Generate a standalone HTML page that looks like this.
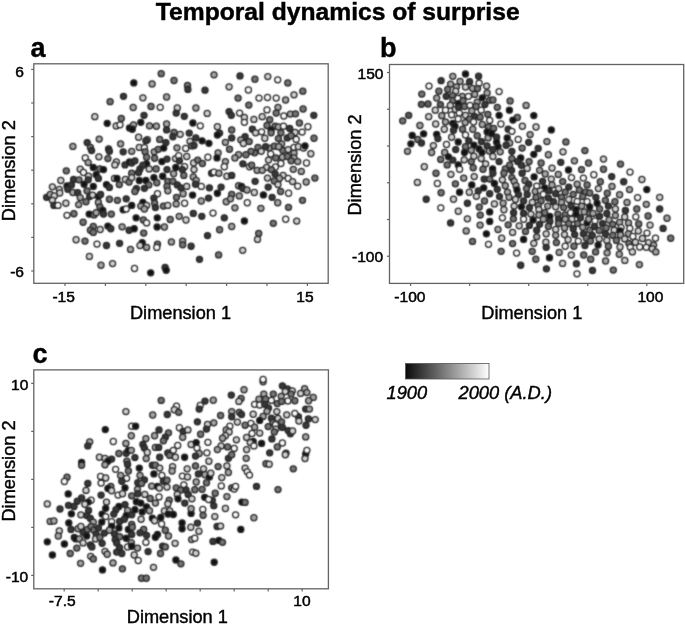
<!DOCTYPE html>
<html><head><meta charset="utf-8"><title>Temporal dynamics of surprise</title>
<style>
html,body{margin:0;padding:0;background:#fff}
svg{display:block}
text{font-family:"Liberation Sans",Arial,sans-serif;fill:#000;stroke:#000;stroke-width:0.4px}
.t{font-weight:bold;font-size:24.65px;stroke-width:0.45px}
.p{font-weight:bold;font-size:27px}
.l{font-size:18.2px}
.k{font-size:15.6px;stroke-width:0.5px}
.i{font-size:18.3px;font-style:italic}
.fr rect{stroke:#636363;stroke-width:1.3}
.tk line{stroke:#636363;stroke-width:1.2}
.d circle{stroke:#262626;stroke-width:1.25}
</style></head><body>
<svg width="685" height="640" viewBox="0 0 685 640">
<defs><filter id="bl" x="-2%" y="-2%" width="104%" height="104%" color-interpolation-filters="sRGB"><feConvolveMatrix order="3" kernelMatrix="1 2 1 2 8 2 1 2 1" divisor="20" edgeMode="duplicate" preserveAlpha="false"/></filter><linearGradient id="g" x1="0" x2="1" y1="0" y2="0"><stop offset="0" stop-color="#0a0a0a"/><stop offset="1" stop-color="#ffffff"/></linearGradient></defs>
<rect width="685" height="640" fill="#fff"/>
<text class="t" x="337.7" y="19.8" text-anchor="middle">Temporal dynamics of surprise</text>
<text class="p" x="30.5" y="57">a</text>
<text class="p" x="380" y="57">b</text>
<text class="p" x="32.5" y="362.5">c</text>
<g class="fr"><rect x="33.8" y="63.8" width="294.4" height="219.5" fill="#fff"/><rect x="389.5" y="64.5" width="294.20000000000005" height="218.89999999999998" fill="#fff"/><rect x="33.8" y="369.9" width="294.59999999999997" height="218.89999999999998" fill="#fff"/></g>
<g class="tk"><line x1="65.0" y1="283.3" x2="65.0" y2="285.90000000000003"/><line x1="105.4" y1="283.3" x2="105.4" y2="285.90000000000003"/><line x1="145.8" y1="283.3" x2="145.8" y2="285.90000000000003"/><line x1="186.2" y1="283.3" x2="186.2" y2="285.90000000000003"/><line x1="226.6" y1="283.3" x2="226.6" y2="285.90000000000003"/><line x1="267.0" y1="283.3" x2="267.0" y2="285.90000000000003"/><line x1="307.4" y1="283.3" x2="307.4" y2="285.90000000000003"/><line x1="31.199999999999996" y1="69.4" x2="33.8" y2="69.4"/><line x1="31.199999999999996" y1="103.0" x2="33.8" y2="103.0"/><line x1="31.199999999999996" y1="136.60000000000002" x2="33.8" y2="136.60000000000002"/><line x1="31.199999999999996" y1="170.20000000000002" x2="33.8" y2="170.20000000000002"/><line x1="31.199999999999996" y1="203.8" x2="33.8" y2="203.8"/><line x1="31.199999999999996" y1="237.4" x2="33.8" y2="237.4"/><line x1="31.199999999999996" y1="271.0" x2="33.8" y2="271.0"/><line x1="410.6" y1="283.4" x2="410.6" y2="286.0"/><line x1="469.65000000000003" y1="283.4" x2="469.65000000000003" y2="286.0"/><line x1="528.7" y1="283.4" x2="528.7" y2="286.0"/><line x1="587.75" y1="283.4" x2="587.75" y2="286.0"/><line x1="646.8" y1="283.4" x2="646.8" y2="286.0"/><line x1="386.9" y1="72.5" x2="389.5" y2="72.5"/><line x1="386.9" y1="109.25" x2="389.5" y2="109.25"/><line x1="386.9" y1="146.0" x2="389.5" y2="146.0"/><line x1="386.9" y1="182.75" x2="389.5" y2="182.75"/><line x1="386.9" y1="219.5" x2="389.5" y2="219.5"/><line x1="386.9" y1="256.25" x2="389.5" y2="256.25"/><line x1="64.2" y1="588.8" x2="64.2" y2="591.4"/><line x1="98.2" y1="588.8" x2="98.2" y2="591.4"/><line x1="132.2" y1="588.8" x2="132.2" y2="591.4"/><line x1="166.2" y1="588.8" x2="166.2" y2="591.4"/><line x1="200.2" y1="588.8" x2="200.2" y2="591.4"/><line x1="234.2" y1="588.8" x2="234.2" y2="591.4"/><line x1="268.2" y1="588.8" x2="268.2" y2="591.4"/><line x1="302.2" y1="588.8" x2="302.2" y2="591.4"/><line x1="31.199999999999996" y1="383.4" x2="33.8" y2="383.4"/><line x1="31.199999999999996" y1="431.4" x2="33.8" y2="431.4"/><line x1="31.199999999999996" y1="479.4" x2="33.8" y2="479.4"/><line x1="31.199999999999996" y1="527.4" x2="33.8" y2="527.4"/><line x1="31.199999999999996" y1="575.4" x2="33.8" y2="575.4"/></g>
<text class="k" transform="translate(24.0,76.9) scale(1,0.94)" text-anchor="end">6</text>
<text class="k" transform="translate(24.0,277.3) scale(1,0.94)" text-anchor="end">-6</text>
<text class="k" transform="translate(63.7,301.7) scale(1,0.94)" text-anchor="middle">-15</text>
<text class="k" transform="translate(305.0,301.7) scale(1,0.94)" text-anchor="middle">15</text>
<text class="l" x="180.5" y="319.4" text-anchor="middle">Dimension 1</text>
<text class="l" transform="translate(14.7,170.7) rotate(-90)" text-anchor="middle">Dimension 2</text>
<text class="k" transform="translate(383.5,78.6) scale(1,0.94)" text-anchor="end">150</text>
<text class="k" transform="translate(383.2,262.1) scale(1,0.94)" text-anchor="end">-100</text>
<text class="k" transform="translate(409.9,301.7) scale(1,0.94)" text-anchor="middle">-100</text>
<text class="k" transform="translate(650.4,301.7) scale(1,0.94)" text-anchor="middle">100</text>
<text class="l" x="531.8" y="319.4" text-anchor="middle">Dimension 1</text>
<text class="l" transform="translate(361.2,165) rotate(-90)" text-anchor="middle">Dimension 2</text>
<text class="k" transform="translate(28.3,390.4) scale(1,0.94)" text-anchor="end">10</text>
<text class="k" transform="translate(28.3,581.8) scale(1,0.94)" text-anchor="end">-10</text>
<text class="k" transform="translate(62.2,605.8) scale(1,0.94)" text-anchor="middle">-7.5</text>
<text class="k" transform="translate(302.0,605.8) scale(1,0.94)" text-anchor="middle">10</text>
<text class="l" x="177.3" y="623" text-anchor="middle">Dimension 1</text>
<text class="l" transform="translate(14.8,471) rotate(-90)" text-anchor="middle">Dimension 2</text>
<rect x="405.5" y="363.5" width="83.5" height="15.5" fill="url(#g)" stroke="#555" stroke-width="0.8"/>
<text class="i" x="386.5" y="398.6">1900</text>
<text class="i" x="458.5" y="398.6">2000 (A.D.)</text>
<g class="d" filter="url(#bl)">
<!--A-->
<circle cx="123.5" cy="96.3" r="3.05" fill="#383838"/>
<circle cx="110.1" cy="101.7" r="3.05" fill="#747474"/>
<circle cx="94.8" cy="116.7" r="3.05" fill="#d0d0d0"/>
<circle cx="121.3" cy="118.5" r="3.05" fill="#747474"/>
<circle cx="107.2" cy="123.3" r="3.05" fill="#121212" stroke="#1e1e1e"/>
<circle cx="116.2" cy="125.9" r="3.05" fill="#d0d0d0"/>
<circle cx="120" cy="124.8" r="3.05" fill="#f8f8f8"/>
<circle cx="129.5" cy="128" r="3.05" fill="#121212" stroke="#1e1e1e"/>
<circle cx="99.2" cy="139.1" r="3.05" fill="#a4a4a4"/>
<circle cx="87.2" cy="142.6" r="3.05" fill="#383838"/>
<circle cx="72.9" cy="146.4" r="3.05" fill="#a4a4a4"/>
<circle cx="90.4" cy="147.4" r="3.05" fill="#747474"/>
<circle cx="91.6" cy="150.6" r="3.05" fill="#383838"/>
<circle cx="120.6" cy="143.8" r="3.05" fill="#a4a4a4"/>
<circle cx="108.6" cy="148.9" r="3.05" fill="#383838"/>
<circle cx="109.4" cy="151.3" r="3.05" fill="#383838"/>
<circle cx="123.2" cy="151.8" r="3.05" fill="#383838"/>
<circle cx="131.7" cy="151.3" r="3.05" fill="#a4a4a4"/>
<circle cx="161.2" cy="73.7" r="3.05" fill="#747474"/>
<circle cx="214" cy="74.8" r="3.05" fill="#a4a4a4"/>
<circle cx="133.8" cy="82.9" r="3.05" fill="#121212" stroke="#1e1e1e"/>
<circle cx="152.1" cy="83.9" r="3.05" fill="#a4a4a4"/>
<circle cx="174" cy="80.5" r="3.05" fill="#747474"/>
<circle cx="187.5" cy="85.4" r="3.05" fill="#747474"/>
<circle cx="187.9" cy="89.4" r="3.05" fill="#383838"/>
<circle cx="205" cy="90.2" r="3.05" fill="#383838"/>
<circle cx="229.1" cy="86.8" r="3.05" fill="#d0d0d0"/>
<circle cx="142.9" cy="97.8" r="3.05" fill="#d0d0d0"/>
<circle cx="166.6" cy="97" r="3.05" fill="#a4a4a4"/>
<circle cx="133.2" cy="107.5" r="3.05" fill="#a4a4a4"/>
<circle cx="151" cy="106.5" r="3.05" fill="#747474"/>
<circle cx="160.2" cy="107.3" r="3.05" fill="#f8f8f8"/>
<circle cx="177.3" cy="108" r="3.05" fill="#d0d0d0"/>
<circle cx="176.2" cy="113.1" r="3.05" fill="#383838"/>
<circle cx="195.9" cy="108" r="3.05" fill="#a4a4a4"/>
<circle cx="207.2" cy="113.4" r="3.05" fill="#d0d0d0"/>
<circle cx="184.3" cy="116.3" r="3.05" fill="#383838"/>
<circle cx="229.1" cy="111.6" r="3.05" fill="#383838"/>
<circle cx="231.3" cy="115.3" r="3.05" fill="#383838"/>
<circle cx="144" cy="115.3" r="3.05" fill="#383838"/>
<circle cx="140.8" cy="122.3" r="3.05" fill="#121212" stroke="#1e1e1e"/>
<circle cx="133.5" cy="124.8" r="3.05" fill="#a4a4a4"/>
<circle cx="132.3" cy="129.2" r="3.05" fill="#121212" stroke="#1e1e1e"/>
<circle cx="149.5" cy="125.8" r="3.05" fill="#a4a4a4"/>
<circle cx="156.4" cy="126.2" r="3.05" fill="#a4a4a4"/>
<circle cx="166.6" cy="124" r="3.05" fill="#a4a4a4"/>
<circle cx="166.6" cy="129.9" r="3.05" fill="#383838"/>
<circle cx="192.9" cy="123" r="3.05" fill="#121212" stroke="#1e1e1e"/>
<circle cx="200.3" cy="125.8" r="3.05" fill="#f8f8f8"/>
<circle cx="217.4" cy="126.7" r="3.05" fill="#d0d0d0"/>
<circle cx="219.6" cy="133.1" r="3.05" fill="#383838"/>
<circle cx="217.4" cy="135" r="3.05" fill="#121212" stroke="#1e1e1e"/>
<circle cx="231.7" cy="129.9" r="3.05" fill="#747474"/>
<circle cx="174" cy="132.4" r="3.05" fill="#747474"/>
<circle cx="172.9" cy="136.7" r="3.05" fill="#383838"/>
<circle cx="180.2" cy="134.3" r="3.05" fill="#d0d0d0"/>
<circle cx="189.2" cy="133.1" r="3.05" fill="#383838"/>
<circle cx="195.8" cy="137.9" r="3.05" fill="#383838"/>
<circle cx="202.1" cy="140.8" r="3.05" fill="#121212" stroke="#1e1e1e"/>
<circle cx="208.9" cy="143.3" r="3.05" fill="#121212" stroke="#1e1e1e"/>
<circle cx="138.6" cy="137.2" r="3.05" fill="#d0d0d0"/>
<circle cx="147.3" cy="139.7" r="3.05" fill="#a4a4a4"/>
<circle cx="145.9" cy="140.8" r="3.05" fill="#383838"/>
<circle cx="159.7" cy="139.4" r="3.05" fill="#747474"/>
<circle cx="165.9" cy="142.6" r="3.05" fill="#383838"/>
<circle cx="190" cy="141.3" r="3.05" fill="#d0d0d0"/>
<circle cx="191.9" cy="145.9" r="3.05" fill="#a4a4a4"/>
<circle cx="194" cy="145.5" r="3.05" fill="#383838"/>
<circle cx="225.4" cy="142.3" r="3.05" fill="#a4a4a4"/>
<circle cx="231.7" cy="137.9" r="3.05" fill="#383838"/>
<circle cx="139.3" cy="147.4" r="3.05" fill="#d0d0d0"/>
<circle cx="144.4" cy="147.7" r="3.05" fill="#f8f8f8"/>
<circle cx="145.1" cy="151.8" r="3.05" fill="#747474"/>
<circle cx="154.2" cy="151.8" r="3.05" fill="#a4a4a4"/>
<circle cx="158.3" cy="149.3" r="3.05" fill="#747474"/>
<circle cx="163.7" cy="148.1" r="3.05" fill="#121212" stroke="#1e1e1e"/>
<circle cx="177" cy="147.8" r="3.05" fill="#a4a4a4"/>
<circle cx="185.7" cy="148.4" r="3.05" fill="#f8f8f8"/>
<circle cx="218.1" cy="152.8" r="3.05" fill="#a4a4a4"/>
<circle cx="229.5" cy="149.2" r="3.05" fill="#747474"/>
<circle cx="240" cy="75.9" r="3.05" fill="#383838"/>
<circle cx="254.9" cy="79.2" r="3.05" fill="#747474"/>
<circle cx="267.8" cy="76.6" r="3.05" fill="#d0d0d0"/>
<circle cx="277.7" cy="79.8" r="3.05" fill="#f8f8f8"/>
<circle cx="287.8" cy="82.9" r="3.05" fill="#747474"/>
<circle cx="248.4" cy="90" r="3.05" fill="#f8f8f8"/>
<circle cx="302.8" cy="91.2" r="3.05" fill="#747474"/>
<circle cx="294" cy="94.8" r="3.05" fill="#d0d0d0"/>
<circle cx="238.1" cy="98.1" r="3.05" fill="#747474"/>
<circle cx="259" cy="98.1" r="3.05" fill="#f8f8f8"/>
<circle cx="267.5" cy="97.5" r="3.05" fill="#f8f8f8"/>
<circle cx="276.2" cy="98.1" r="3.05" fill="#f8f8f8"/>
<circle cx="285.6" cy="100" r="3.05" fill="#a4a4a4"/>
<circle cx="248.8" cy="105.1" r="3.05" fill="#747474"/>
<circle cx="278" cy="107.3" r="3.05" fill="#a4a4a4"/>
<circle cx="267" cy="109.9" r="3.05" fill="#f8f8f8"/>
<circle cx="303.1" cy="109" r="3.05" fill="#747474"/>
<circle cx="276.2" cy="113.1" r="3.05" fill="#747474"/>
<circle cx="283.8" cy="116" r="3.05" fill="#f8f8f8"/>
<circle cx="290.4" cy="114.1" r="3.05" fill="#a4a4a4"/>
<circle cx="295.5" cy="113.8" r="3.05" fill="#747474"/>
<circle cx="313.8" cy="115.3" r="3.05" fill="#383838"/>
<circle cx="239.6" cy="113.1" r="3.05" fill="#f8f8f8"/>
<circle cx="244.4" cy="117.5" r="3.05" fill="#d0d0d0"/>
<circle cx="244.4" cy="122.3" r="3.05" fill="#f8f8f8"/>
<circle cx="253.9" cy="119.4" r="3.05" fill="#d0d0d0"/>
<circle cx="262.2" cy="116.7" r="3.05" fill="#d0d0d0"/>
<circle cx="269.7" cy="119.7" r="3.05" fill="#747474"/>
<circle cx="299.4" cy="123" r="3.05" fill="#747474"/>
<circle cx="267" cy="125.5" r="3.05" fill="#747474"/>
<circle cx="275.1" cy="126.2" r="3.05" fill="#747474"/>
<circle cx="278.4" cy="127" r="3.05" fill="#a4a4a4"/>
<circle cx="283.5" cy="126.2" r="3.05" fill="#f8f8f8"/>
<circle cx="289.7" cy="128.4" r="3.05" fill="#383838"/>
<circle cx="307.9" cy="126.7" r="3.05" fill="#f8f8f8"/>
<circle cx="252.4" cy="129.2" r="3.05" fill="#383838"/>
<circle cx="255.6" cy="132.8" r="3.05" fill="#d0d0d0"/>
<circle cx="261.6" cy="131.8" r="3.05" fill="#f8f8f8"/>
<circle cx="271.1" cy="129.9" r="3.05" fill="#121212" stroke="#1e1e1e"/>
<circle cx="271.1" cy="132.8" r="3.05" fill="#747474"/>
<circle cx="280.9" cy="132.8" r="3.05" fill="#747474"/>
<circle cx="295.1" cy="132.5" r="3.05" fill="#d0d0d0"/>
<circle cx="302.1" cy="132.1" r="3.05" fill="#f8f8f8"/>
<circle cx="245.1" cy="136.7" r="3.05" fill="#383838"/>
<circle cx="240.8" cy="139.8" r="3.05" fill="#a4a4a4"/>
<circle cx="249.2" cy="141.6" r="3.05" fill="#747474"/>
<circle cx="243.4" cy="143.5" r="3.05" fill="#d0d0d0"/>
<circle cx="264.8" cy="138.2" r="3.05" fill="#d0d0d0"/>
<circle cx="278.4" cy="138.6" r="3.05" fill="#747474"/>
<circle cx="281.6" cy="143.8" r="3.05" fill="#a4a4a4"/>
<circle cx="287.2" cy="137.9" r="3.05" fill="#383838"/>
<circle cx="291.1" cy="135.7" r="3.05" fill="#747474"/>
<circle cx="296.2" cy="139.4" r="3.05" fill="#f8f8f8"/>
<circle cx="314" cy="138.2" r="3.05" fill="#747474"/>
<circle cx="258" cy="147.4" r="3.05" fill="#747474"/>
<circle cx="269.2" cy="148.1" r="3.05" fill="#a4a4a4"/>
<circle cx="265.6" cy="146.7" r="3.05" fill="#383838"/>
<circle cx="274.3" cy="146.2" r="3.05" fill="#747474"/>
<circle cx="261.2" cy="151.3" r="3.05" fill="#d0d0d0"/>
<circle cx="254.6" cy="152.8" r="3.05" fill="#747474"/>
<circle cx="251" cy="151.3" r="3.05" fill="#747474"/>
<circle cx="282.8" cy="150.3" r="3.05" fill="#747474"/>
<circle cx="288.2" cy="149.6" r="3.05" fill="#d0d0d0"/>
<circle cx="294" cy="147.4" r="3.05" fill="#f8f8f8"/>
<circle cx="298.4" cy="146.7" r="3.05" fill="#d0d0d0"/>
<circle cx="303.5" cy="148.1" r="3.05" fill="#f8f8f8"/>
<circle cx="305" cy="145.9" r="3.05" fill="#121212" stroke="#1e1e1e"/>
<circle cx="310.8" cy="153.7" r="3.05" fill="#d0d0d0"/>
<circle cx="294" cy="153.2" r="3.05" fill="#a4a4a4"/>
<circle cx="278.7" cy="146.7" r="3.05" fill="#a4a4a4"/>
<circle cx="270.7" cy="154" r="3.05" fill="#f8f8f8"/>
<circle cx="238.6" cy="154.7" r="3.05" fill="#a4a4a4"/>
<circle cx="245.9" cy="154.7" r="3.05" fill="#747474"/>
<circle cx="85.3" cy="157.9" r="3.05" fill="#f8f8f8"/>
<circle cx="98.9" cy="156.8" r="3.05" fill="#d0d0d0"/>
<circle cx="107.9" cy="158.6" r="3.05" fill="#747474"/>
<circle cx="88.2" cy="162.6" r="3.05" fill="#a4a4a4"/>
<circle cx="116.4" cy="162" r="3.05" fill="#d0d0d0"/>
<circle cx="114.9" cy="164.9" r="3.05" fill="#d0d0d0"/>
<circle cx="125" cy="164.9" r="3.05" fill="#383838"/>
<circle cx="129.5" cy="162" r="3.05" fill="#121212" stroke="#1e1e1e"/>
<circle cx="131.7" cy="163" r="3.05" fill="#383838"/>
<circle cx="93.3" cy="167.4" r="3.05" fill="#121212" stroke="#1e1e1e"/>
<circle cx="99.9" cy="168.9" r="3.05" fill="#747474"/>
<circle cx="103.5" cy="169.6" r="3.05" fill="#121212" stroke="#1e1e1e"/>
<circle cx="66.3" cy="170.8" r="3.05" fill="#747474"/>
<circle cx="80.2" cy="169.2" r="3.05" fill="#d0d0d0"/>
<circle cx="83.5" cy="172.5" r="3.05" fill="#f8f8f8"/>
<circle cx="88.5" cy="176.2" r="3.05" fill="#d0d0d0"/>
<circle cx="96.2" cy="174.7" r="3.05" fill="#121212" stroke="#1e1e1e"/>
<circle cx="98.4" cy="178.4" r="3.05" fill="#383838"/>
<circle cx="114.5" cy="178.4" r="3.05" fill="#f8f8f8"/>
<circle cx="117" cy="178.4" r="3.05" fill="#121212" stroke="#1e1e1e"/>
<circle cx="125.4" cy="179.5" r="3.05" fill="#d0d0d0"/>
<circle cx="129.1" cy="182" r="3.05" fill="#747474"/>
<circle cx="131.7" cy="173.2" r="3.05" fill="#747474"/>
<circle cx="131.7" cy="177.6" r="3.05" fill="#d0d0d0"/>
<circle cx="60.8" cy="180.5" r="3.05" fill="#d0d0d0"/>
<circle cx="73.6" cy="179.5" r="3.05" fill="#383838"/>
<circle cx="79" cy="179.8" r="3.05" fill="#747474"/>
<circle cx="88.2" cy="179.8" r="3.05" fill="#383838"/>
<circle cx="84.1" cy="184.2" r="3.05" fill="#121212" stroke="#1e1e1e"/>
<circle cx="93.3" cy="186.4" r="3.05" fill="#121212" stroke="#1e1e1e"/>
<circle cx="106.5" cy="184.6" r="3.05" fill="#121212" stroke="#1e1e1e"/>
<circle cx="109.4" cy="187.4" r="3.05" fill="#383838"/>
<circle cx="119.3" cy="184.6" r="3.05" fill="#747474"/>
<circle cx="52.4" cy="186.8" r="3.05" fill="#d0d0d0"/>
<circle cx="59.3" cy="189.3" r="3.05" fill="#d0d0d0"/>
<circle cx="67" cy="185.9" r="3.05" fill="#121212" stroke="#1e1e1e"/>
<circle cx="71.4" cy="184.9" r="3.05" fill="#383838"/>
<circle cx="67.8" cy="189.3" r="3.05" fill="#383838"/>
<circle cx="59.7" cy="193" r="3.05" fill="#d0d0d0"/>
<circle cx="72.9" cy="192.5" r="3.05" fill="#a4a4a4"/>
<circle cx="77.7" cy="192.7" r="3.05" fill="#383838"/>
<circle cx="87" cy="190.8" r="3.05" fill="#747474"/>
<circle cx="89.7" cy="196.6" r="3.05" fill="#383838"/>
<circle cx="92.6" cy="195.1" r="3.05" fill="#d0d0d0"/>
<circle cx="98.4" cy="196.6" r="3.05" fill="#121212" stroke="#1e1e1e"/>
<circle cx="100.6" cy="194.4" r="3.05" fill="#383838"/>
<circle cx="46.6" cy="197.3" r="3.05" fill="#383838"/>
<circle cx="50.2" cy="194.4" r="3.05" fill="#a4a4a4"/>
<circle cx="54.3" cy="195.9" r="3.05" fill="#d0d0d0"/>
<circle cx="52.4" cy="200.3" r="3.05" fill="#d0d0d0"/>
<circle cx="80.2" cy="197.6" r="3.05" fill="#a4a4a4"/>
<circle cx="86" cy="201.7" r="3.05" fill="#747474"/>
<circle cx="98.4" cy="202.4" r="3.05" fill="#a4a4a4"/>
<circle cx="109.4" cy="199.2" r="3.05" fill="#747474"/>
<circle cx="117.4" cy="200.3" r="3.05" fill="#747474"/>
<circle cx="126.2" cy="198.8" r="3.05" fill="#383838"/>
<circle cx="131.7" cy="205.4" r="3.05" fill="#121212" stroke="#1e1e1e"/>
<circle cx="53.9" cy="205.4" r="3.05" fill="#383838"/>
<circle cx="58" cy="205.4" r="3.05" fill="#f8f8f8"/>
<circle cx="65.9" cy="203.2" r="3.05" fill="#d0d0d0"/>
<circle cx="78.7" cy="204.6" r="3.05" fill="#a4a4a4"/>
<circle cx="99.9" cy="206.8" r="3.05" fill="#747474"/>
<circle cx="102.8" cy="210.5" r="3.05" fill="#121212" stroke="#1e1e1e"/>
<circle cx="103.5" cy="214.1" r="3.05" fill="#383838"/>
<circle cx="111.3" cy="214.1" r="3.05" fill="#747474"/>
<circle cx="123.2" cy="209.7" r="3.05" fill="#121212" stroke="#1e1e1e"/>
<circle cx="126.2" cy="209" r="3.05" fill="#f8f8f8"/>
<circle cx="67" cy="215.3" r="3.05" fill="#f8f8f8"/>
<circle cx="73.9" cy="213.7" r="3.05" fill="#747474"/>
<circle cx="89.2" cy="214.1" r="3.05" fill="#121212" stroke="#1e1e1e"/>
<circle cx="94" cy="214.9" r="3.05" fill="#747474"/>
<circle cx="96.2" cy="212.7" r="3.05" fill="#a4a4a4"/>
<circle cx="83.1" cy="222.2" r="3.05" fill="#747474"/>
<circle cx="93.3" cy="226.5" r="3.05" fill="#747474"/>
<circle cx="90.4" cy="230.2" r="3.05" fill="#747474"/>
<circle cx="93.3" cy="232.4" r="3.05" fill="#747474"/>
<circle cx="100.2" cy="229.5" r="3.05" fill="#d0d0d0"/>
<circle cx="107.9" cy="226.1" r="3.05" fill="#121212" stroke="#1e1e1e"/>
<circle cx="110.8" cy="228.7" r="3.05" fill="#383838"/>
<circle cx="122.1" cy="226.8" r="3.05" fill="#a4a4a4"/>
<circle cx="129.1" cy="230.2" r="3.05" fill="#383838"/>
<circle cx="76.1" cy="239.7" r="3.05" fill="#d0d0d0"/>
<circle cx="85" cy="241.1" r="3.05" fill="#747474"/>
<circle cx="97" cy="244.1" r="3.05" fill="#f8f8f8"/>
<circle cx="106.5" cy="245.5" r="3.05" fill="#383838"/>
<circle cx="119.6" cy="243.3" r="3.05" fill="#383838"/>
<circle cx="134.9" cy="160.8" r="3.05" fill="#383838"/>
<circle cx="146.6" cy="157.2" r="3.05" fill="#747474"/>
<circle cx="154.6" cy="158.2" r="3.05" fill="#747474"/>
<circle cx="161.9" cy="161.6" r="3.05" fill="#121212" stroke="#1e1e1e"/>
<circle cx="167" cy="159.1" r="3.05" fill="#383838"/>
<circle cx="175.5" cy="158.6" r="3.05" fill="#d0d0d0"/>
<circle cx="178.7" cy="155.7" r="3.05" fill="#f8f8f8"/>
<circle cx="179.4" cy="160.8" r="3.05" fill="#383838"/>
<circle cx="186.7" cy="156.5" r="3.05" fill="#d0d0d0"/>
<circle cx="175.8" cy="167.4" r="3.05" fill="#121212" stroke="#1e1e1e"/>
<circle cx="184.6" cy="166.7" r="3.05" fill="#f8f8f8"/>
<circle cx="182.4" cy="169.6" r="3.05" fill="#383838"/>
<circle cx="193.6" cy="163" r="3.05" fill="#d0d0d0"/>
<circle cx="197.7" cy="160.1" r="3.05" fill="#747474"/>
<circle cx="202.4" cy="163.5" r="3.05" fill="#747474"/>
<circle cx="207.9" cy="157.2" r="3.05" fill="#f8f8f8"/>
<circle cx="217" cy="157.9" r="3.05" fill="#121212" stroke="#1e1e1e"/>
<circle cx="225.4" cy="161.6" r="3.05" fill="#a4a4a4"/>
<circle cx="224.3" cy="166.7" r="3.05" fill="#f8f8f8"/>
<circle cx="140" cy="168.9" r="3.05" fill="#383838"/>
<circle cx="146.6" cy="163.8" r="3.05" fill="#121212" stroke="#1e1e1e"/>
<circle cx="142.9" cy="165.2" r="3.05" fill="#383838"/>
<circle cx="149.2" cy="168.9" r="3.05" fill="#d0d0d0"/>
<circle cx="156.1" cy="168.9" r="3.05" fill="#747474"/>
<circle cx="167" cy="169.6" r="3.05" fill="#383838"/>
<circle cx="173.6" cy="173.7" r="3.05" fill="#a4a4a4"/>
<circle cx="183.8" cy="175.4" r="3.05" fill="#747474"/>
<circle cx="194" cy="169.6" r="3.05" fill="#d0d0d0"/>
<circle cx="193.3" cy="176.9" r="3.05" fill="#a4a4a4"/>
<circle cx="196.2" cy="180.5" r="3.05" fill="#a4a4a4"/>
<circle cx="211.6" cy="173.2" r="3.05" fill="#383838"/>
<circle cx="214" cy="172.2" r="3.05" fill="#f8f8f8"/>
<circle cx="218.9" cy="173.2" r="3.05" fill="#a4a4a4"/>
<circle cx="226.9" cy="176.2" r="3.05" fill="#d0d0d0"/>
<circle cx="231.7" cy="175.4" r="3.05" fill="#383838"/>
<circle cx="138.6" cy="172.5" r="3.05" fill="#383838"/>
<circle cx="139.3" cy="180.5" r="3.05" fill="#121212" stroke="#1e1e1e"/>
<circle cx="145.9" cy="180.5" r="3.05" fill="#121212" stroke="#1e1e1e"/>
<circle cx="153.9" cy="177.6" r="3.05" fill="#121212" stroke="#1e1e1e"/>
<circle cx="162.7" cy="176.2" r="3.05" fill="#121212" stroke="#1e1e1e"/>
<circle cx="156.8" cy="182.7" r="3.05" fill="#747474"/>
<circle cx="148.8" cy="184.9" r="3.05" fill="#747474"/>
<circle cx="167.8" cy="181.3" r="3.05" fill="#747474"/>
<circle cx="172.9" cy="181.3" r="3.05" fill="#747474"/>
<circle cx="177.3" cy="184.9" r="3.05" fill="#383838"/>
<circle cx="167" cy="186.4" r="3.05" fill="#747474"/>
<circle cx="167.8" cy="190.8" r="3.05" fill="#a4a4a4"/>
<circle cx="180.9" cy="187.8" r="3.05" fill="#383838"/>
<circle cx="186.7" cy="186.4" r="3.05" fill="#d0d0d0"/>
<circle cx="183.1" cy="193.7" r="3.05" fill="#a4a4a4"/>
<circle cx="195.5" cy="184.2" r="3.05" fill="#383838"/>
<circle cx="201.3" cy="186.4" r="3.05" fill="#f8f8f8"/>
<circle cx="209.4" cy="187.8" r="3.05" fill="#383838"/>
<circle cx="221.1" cy="187.1" r="3.05" fill="#383838"/>
<circle cx="217.4" cy="193.2" r="3.05" fill="#121212" stroke="#1e1e1e"/>
<circle cx="136.4" cy="188.6" r="3.05" fill="#383838"/>
<circle cx="144.4" cy="188.3" r="3.05" fill="#383838"/>
<circle cx="134.9" cy="191.5" r="3.05" fill="#747474"/>
<circle cx="157.5" cy="193.7" r="3.05" fill="#f8f8f8"/>
<circle cx="153.9" cy="198.1" r="3.05" fill="#383838"/>
<circle cx="176.5" cy="197.3" r="3.05" fill="#747474"/>
<circle cx="192.6" cy="195.1" r="3.05" fill="#121212" stroke="#1e1e1e"/>
<circle cx="208.6" cy="198.1" r="3.05" fill="#383838"/>
<circle cx="201.3" cy="201" r="3.05" fill="#a4a4a4"/>
<circle cx="231.7" cy="194.4" r="3.05" fill="#747474"/>
<circle cx="226.2" cy="201.7" r="3.05" fill="#a4a4a4"/>
<circle cx="230.5" cy="198.8" r="3.05" fill="#a4a4a4"/>
<circle cx="142.9" cy="202.4" r="3.05" fill="#121212" stroke="#1e1e1e"/>
<circle cx="146.6" cy="205.4" r="3.05" fill="#d0d0d0"/>
<circle cx="140.8" cy="206.1" r="3.05" fill="#a4a4a4"/>
<circle cx="144.4" cy="209" r="3.05" fill="#a4a4a4"/>
<circle cx="154.6" cy="203.2" r="3.05" fill="#747474"/>
<circle cx="155.4" cy="207.6" r="3.05" fill="#383838"/>
<circle cx="163.4" cy="206.1" r="3.05" fill="#747474"/>
<circle cx="167.8" cy="205.4" r="3.05" fill="#d0d0d0"/>
<circle cx="176.2" cy="203.9" r="3.05" fill="#a4a4a4"/>
<circle cx="184.6" cy="203.2" r="3.05" fill="#f8f8f8"/>
<circle cx="193.3" cy="213.4" r="3.05" fill="#383838"/>
<circle cx="201.8" cy="216.3" r="3.05" fill="#383838"/>
<circle cx="213" cy="213.1" r="3.05" fill="#f8f8f8"/>
<circle cx="224.3" cy="217.8" r="3.05" fill="#383838"/>
<circle cx="136.1" cy="217.8" r="3.05" fill="#121212" stroke="#1e1e1e"/>
<circle cx="143.4" cy="220" r="3.05" fill="#747474"/>
<circle cx="146.6" cy="222.9" r="3.05" fill="#f8f8f8"/>
<circle cx="157.3" cy="217.8" r="3.05" fill="#121212" stroke="#1e1e1e"/>
<circle cx="170.2" cy="219.5" r="3.05" fill="#747474"/>
<circle cx="179.2" cy="216.3" r="3.05" fill="#a4a4a4"/>
<circle cx="186" cy="220" r="3.05" fill="#d0d0d0"/>
<circle cx="134.2" cy="228.7" r="3.05" fill="#121212" stroke="#1e1e1e"/>
<circle cx="157.1" cy="227" r="3.05" fill="#121212" stroke="#1e1e1e"/>
<circle cx="164.4" cy="227" r="3.05" fill="#a4a4a4"/>
<circle cx="143.7" cy="233.1" r="3.05" fill="#747474"/>
<circle cx="219.6" cy="229.7" r="3.05" fill="#747474"/>
<circle cx="207.5" cy="235.6" r="3.05" fill="#383838"/>
<circle cx="231.7" cy="226.5" r="3.05" fill="#a4a4a4"/>
<circle cx="171.4" cy="241.9" r="3.05" fill="#a4a4a4"/>
<circle cx="182.7" cy="241.1" r="3.05" fill="#a4a4a4"/>
<circle cx="182.7" cy="244.8" r="3.05" fill="#747474"/>
<circle cx="191.1" cy="246.2" r="3.05" fill="#383838"/>
<circle cx="142.2" cy="242.6" r="3.05" fill="#121212" stroke="#1e1e1e"/>
<circle cx="140" cy="245.5" r="3.05" fill="#d0d0d0"/>
<circle cx="157.5" cy="244.1" r="3.05" fill="#747474"/>
<circle cx="156.8" cy="247.4" r="3.05" fill="#f8f8f8"/>
<circle cx="146.6" cy="247.4" r="3.05" fill="#a4a4a4"/>
<circle cx="234.9" cy="157.9" r="3.05" fill="#a4a4a4"/>
<circle cx="275.8" cy="157.9" r="3.05" fill="#747474"/>
<circle cx="282.4" cy="157.2" r="3.05" fill="#a4a4a4"/>
<circle cx="287.5" cy="156.5" r="3.05" fill="#747474"/>
<circle cx="294" cy="157.9" r="3.05" fill="#a4a4a4"/>
<circle cx="268.5" cy="160.1" r="3.05" fill="#d0d0d0"/>
<circle cx="291.1" cy="160.8" r="3.05" fill="#747474"/>
<circle cx="297.7" cy="161.6" r="3.05" fill="#a4a4a4"/>
<circle cx="306.5" cy="163" r="3.05" fill="#f8f8f8"/>
<circle cx="242.9" cy="163.8" r="3.05" fill="#383838"/>
<circle cx="249.5" cy="166.7" r="3.05" fill="#f8f8f8"/>
<circle cx="251.7" cy="165.2" r="3.05" fill="#747474"/>
<circle cx="280.9" cy="163.5" r="3.05" fill="#f8f8f8"/>
<circle cx="275.4" cy="167" r="3.05" fill="#f8f8f8"/>
<circle cx="266.6" cy="167.4" r="3.05" fill="#d0d0d0"/>
<circle cx="271.4" cy="169.6" r="3.05" fill="#747474"/>
<circle cx="257.1" cy="170.3" r="3.05" fill="#a4a4a4"/>
<circle cx="262.2" cy="170.3" r="3.05" fill="#a4a4a4"/>
<circle cx="293.3" cy="169.3" r="3.05" fill="#a4a4a4"/>
<circle cx="301.3" cy="171.4" r="3.05" fill="#a4a4a4"/>
<circle cx="275.1" cy="174" r="3.05" fill="#383838"/>
<circle cx="283.1" cy="175.4" r="3.05" fill="#d0d0d0"/>
<circle cx="279.4" cy="178.4" r="3.05" fill="#a4a4a4"/>
<circle cx="288.2" cy="178.4" r="3.05" fill="#f8f8f8"/>
<circle cx="267.5" cy="178.1" r="3.05" fill="#d0d0d0"/>
<circle cx="292.6" cy="181.6" r="3.05" fill="#d0d0d0"/>
<circle cx="314.9" cy="178.1" r="3.05" fill="#747474"/>
<circle cx="306.2" cy="182" r="3.05" fill="#a4a4a4"/>
<circle cx="255.1" cy="181.3" r="3.05" fill="#383838"/>
<circle cx="274.3" cy="181" r="3.05" fill="#747474"/>
<circle cx="278" cy="184.6" r="3.05" fill="#d0d0d0"/>
<circle cx="297.7" cy="186.1" r="3.05" fill="#f8f8f8"/>
<circle cx="268.2" cy="187.1" r="3.05" fill="#383838"/>
<circle cx="238.6" cy="185.7" r="3.05" fill="#a4a4a4"/>
<circle cx="241.5" cy="186.4" r="3.05" fill="#121212" stroke="#1e1e1e"/>
<circle cx="242.9" cy="188.6" r="3.05" fill="#383838"/>
<circle cx="247" cy="190" r="3.05" fill="#a4a4a4"/>
<circle cx="254.3" cy="192.5" r="3.05" fill="#d0d0d0"/>
<circle cx="280.6" cy="191.5" r="3.05" fill="#747474"/>
<circle cx="288.6" cy="193.2" r="3.05" fill="#f8f8f8"/>
<circle cx="239.3" cy="195.9" r="3.05" fill="#a4a4a4"/>
<circle cx="263.4" cy="194.9" r="3.05" fill="#121212" stroke="#1e1e1e"/>
<circle cx="272.1" cy="197.3" r="3.05" fill="#383838"/>
<circle cx="302.5" cy="200.3" r="3.05" fill="#747474"/>
<circle cx="247.3" cy="202.7" r="3.05" fill="#f8f8f8"/>
<circle cx="277.7" cy="202.7" r="3.05" fill="#a4a4a4"/>
<circle cx="234.9" cy="207.8" r="3.05" fill="#a4a4a4"/>
<circle cx="260.9" cy="208.3" r="3.05" fill="#a4a4a4"/>
<circle cx="288.5" cy="207.3" r="3.05" fill="#747474"/>
<circle cx="244.4" cy="221" r="3.05" fill="#121212" stroke="#1e1e1e"/>
<circle cx="273.3" cy="223.3" r="3.05" fill="#747474"/>
<circle cx="285.7" cy="219.2" r="3.05" fill="#f8f8f8"/>
<circle cx="296.7" cy="221.1" r="3.05" fill="#d0d0d0"/>
<circle cx="258.7" cy="233.4" r="3.05" fill="#747474"/>
<circle cx="257.5" cy="239.4" r="3.05" fill="#d0d0d0"/>
<circle cx="89.4" cy="256.4" r="3.05" fill="#d0d0d0"/>
<circle cx="101" cy="265.2" r="3.05" fill="#a4a4a4"/>
<circle cx="112.6" cy="263.6" r="3.05" fill="#d0d0d0"/>
<circle cx="134.5" cy="268.5" r="3.05" fill="#f8f8f8"/>
<circle cx="150.7" cy="272.8" r="3.05" fill="#121212" stroke="#1e1e1e"/>
<circle cx="165.1" cy="267.4" r="3.05" fill="#383838"/>
<circle cx="166.2" cy="270.2" r="3.05" fill="#121212" stroke="#1e1e1e"/>
<circle cx="130.5" cy="249.4" r="3.05" fill="#a4a4a4"/>
<circle cx="199.5" cy="259.3" r="3.05" fill="#383838"/>
<circle cx="218.6" cy="254.9" r="3.05" fill="#747474"/>
<circle cx="242.7" cy="250.3" r="3.05" fill="#d0d0d0"/>
<!--B-->
<circle cx="465.5" cy="74" r="3.05" fill="#121212" stroke="#1e1e1e"/>
<circle cx="452.8" cy="76.3" r="3.05" fill="#a4a4a4"/>
<circle cx="478.6" cy="76.2" r="3.05" fill="#383838"/>
<circle cx="441.1" cy="80.7" r="3.05" fill="#383838"/>
<circle cx="460.1" cy="81.4" r="3.05" fill="#a4a4a4"/>
<circle cx="469.6" cy="81.7" r="3.05" fill="#383838"/>
<circle cx="450.6" cy="84.2" r="3.05" fill="#a4a4a4"/>
<circle cx="479.1" cy="83.2" r="3.05" fill="#f8f8f8"/>
<circle cx="429" cy="86.1" r="3.05" fill="#f8f8f8"/>
<circle cx="456.4" cy="86.8" r="3.05" fill="#a4a4a4"/>
<circle cx="465.5" cy="87.1" r="3.05" fill="#d0d0d0"/>
<circle cx="472.5" cy="88.3" r="3.05" fill="#a4a4a4"/>
<circle cx="477.6" cy="88.6" r="3.05" fill="#747474"/>
<circle cx="486.6" cy="86.1" r="3.05" fill="#d0d0d0"/>
<circle cx="438.9" cy="91.2" r="3.05" fill="#747474"/>
<circle cx="447.7" cy="89.4" r="3.05" fill="#747474"/>
<circle cx="455.7" cy="91.2" r="3.05" fill="#d0d0d0"/>
<circle cx="421.8" cy="94.1" r="3.05" fill="#747474"/>
<circle cx="446.2" cy="96.3" r="3.05" fill="#383838"/>
<circle cx="452.5" cy="95.6" r="3.05" fill="#747474"/>
<circle cx="462.3" cy="96.3" r="3.05" fill="#a4a4a4"/>
<circle cx="468.4" cy="96.3" r="3.05" fill="#f8f8f8"/>
<circle cx="474.7" cy="94.4" r="3.05" fill="#a4a4a4"/>
<circle cx="482.3" cy="97.8" r="3.05" fill="#121212" stroke="#1e1e1e"/>
<circle cx="487.1" cy="92.9" r="3.05" fill="#a4a4a4"/>
<circle cx="436.7" cy="98.1" r="3.05" fill="#a4a4a4"/>
<circle cx="452.8" cy="100.7" r="3.05" fill="#747474"/>
<circle cx="457.9" cy="98.5" r="3.05" fill="#f8f8f8"/>
<circle cx="458.6" cy="103.6" r="3.05" fill="#121212" stroke="#1e1e1e"/>
<circle cx="463" cy="100.7" r="3.05" fill="#747474"/>
<circle cx="477.2" cy="102.1" r="3.05" fill="#a4a4a4"/>
<circle cx="484.9" cy="104.6" r="3.05" fill="#383838"/>
<circle cx="489.7" cy="100.2" r="3.05" fill="#747474"/>
<circle cx="421.4" cy="104.3" r="3.05" fill="#5c5c5c"/>
<circle cx="428" cy="104" r="3.05" fill="#5c5c5c"/>
<circle cx="440.4" cy="104.6" r="3.05" fill="#5c5c5c"/>
<circle cx="450.3" cy="105.4" r="3.05" fill="#d0d0d0"/>
<circle cx="464.5" cy="106.5" r="3.05" fill="#747474"/>
<circle cx="470" cy="105.4" r="3.05" fill="#f8f8f8"/>
<circle cx="476.1" cy="106.5" r="3.05" fill="#747474"/>
<circle cx="435.3" cy="110.2" r="3.05" fill="#d0d0d0"/>
<circle cx="445.5" cy="110.2" r="3.05" fill="#f8f8f8"/>
<circle cx="455.3" cy="109.4" r="3.05" fill="#d0d0d0"/>
<circle cx="459.3" cy="113.1" r="3.05" fill="#f8f8f8"/>
<circle cx="458.6" cy="107.3" r="3.05" fill="#383838"/>
<circle cx="471.8" cy="110.9" r="3.05" fill="#a4a4a4"/>
<circle cx="481.2" cy="110.2" r="3.05" fill="#f8f8f8"/>
<circle cx="408.7" cy="115.3" r="3.05" fill="#565656"/>
<circle cx="428.7" cy="116.7" r="3.05" fill="#d0d0d0"/>
<circle cx="441.8" cy="115.7" r="3.05" fill="#a4a4a4"/>
<circle cx="451.6" cy="114.8" r="3.05" fill="#f8f8f8"/>
<circle cx="465.5" cy="115.3" r="3.05" fill="#d0d0d0"/>
<circle cx="474.4" cy="116.3" r="3.05" fill="#383838"/>
<circle cx="480.1" cy="117.2" r="3.05" fill="#747474"/>
<circle cx="487.8" cy="114.3" r="3.05" fill="#747474"/>
<circle cx="402.7" cy="120.8" r="3.05" fill="#747474"/>
<circle cx="458.2" cy="118.9" r="3.05" fill="#f8f8f8"/>
<circle cx="469.6" cy="119.2" r="3.05" fill="#747474"/>
<circle cx="473.6" cy="121.9" r="3.05" fill="#f8f8f8"/>
<circle cx="489.7" cy="120.4" r="3.05" fill="#f8f8f8"/>
<circle cx="419.9" cy="125.5" r="3.05" fill="#a4a4a4"/>
<circle cx="435.7" cy="124" r="3.05" fill="#d0d0d0"/>
<circle cx="445.5" cy="121.9" r="3.05" fill="#a4a4a4"/>
<circle cx="452.8" cy="123.3" r="3.05" fill="#121212" stroke="#1e1e1e"/>
<circle cx="455" cy="126.2" r="3.05" fill="#121212" stroke="#1e1e1e"/>
<circle cx="465.2" cy="122.6" r="3.05" fill="#a4a4a4"/>
<circle cx="482.3" cy="124.5" r="3.05" fill="#a4a4a4"/>
<circle cx="488.5" cy="127" r="3.05" fill="#747474"/>
<circle cx="444.3" cy="129.2" r="3.05" fill="#d0d0d0"/>
<circle cx="453.5" cy="130.3" r="3.05" fill="#383838"/>
<circle cx="462.6" cy="129.2" r="3.05" fill="#747474"/>
<circle cx="472.8" cy="129.2" r="3.05" fill="#a4a4a4"/>
<circle cx="487.1" cy="131.8" r="3.05" fill="#121212" stroke="#1e1e1e"/>
<circle cx="412.2" cy="135.4" r="3.05" fill="#121212" stroke="#1e1e1e"/>
<circle cx="423.6" cy="133.8" r="3.05" fill="#121212" stroke="#1e1e1e"/>
<circle cx="436.7" cy="134.3" r="3.05" fill="#121212" stroke="#1e1e1e"/>
<circle cx="437.9" cy="138.6" r="3.05" fill="#383838"/>
<circle cx="451.6" cy="137.2" r="3.05" fill="#d0d0d0"/>
<circle cx="465.5" cy="135" r="3.05" fill="#f8f8f8"/>
<circle cx="477.2" cy="135.7" r="3.05" fill="#747474"/>
<circle cx="417.7" cy="139.4" r="3.05" fill="#747474"/>
<circle cx="421.4" cy="143" r="3.05" fill="#383838"/>
<circle cx="410.9" cy="143.8" r="3.05" fill="#121212" stroke="#1e1e1e"/>
<circle cx="458.2" cy="142" r="3.05" fill="#121212" stroke="#1e1e1e"/>
<circle cx="468.8" cy="140.8" r="3.05" fill="#383838"/>
<circle cx="481.5" cy="141.6" r="3.05" fill="#383838"/>
<circle cx="488.1" cy="137.9" r="3.05" fill="#a4a4a4"/>
<circle cx="433.4" cy="145.6" r="3.05" fill="#d0d0d0"/>
<circle cx="446.5" cy="144.5" r="3.05" fill="#f8f8f8"/>
<circle cx="465.5" cy="146.7" r="3.05" fill="#747474"/>
<circle cx="473.9" cy="145.2" r="3.05" fill="#121212" stroke="#1e1e1e"/>
<circle cx="487.1" cy="145.9" r="3.05" fill="#383838"/>
<circle cx="407.5" cy="151.3" r="3.05" fill="#a4a4a4"/>
<circle cx="431.6" cy="152.5" r="3.05" fill="#a4a4a4"/>
<circle cx="444.7" cy="152.5" r="3.05" fill="#a4a4a4"/>
<circle cx="455.7" cy="149.6" r="3.05" fill="#383838"/>
<circle cx="464.5" cy="152.5" r="3.05" fill="#121212" stroke="#1e1e1e"/>
<circle cx="471.3" cy="150.3" r="3.05" fill="#a4a4a4"/>
<circle cx="479.1" cy="148.9" r="3.05" fill="#121212" stroke="#1e1e1e"/>
<circle cx="482" cy="152.5" r="3.05" fill="#121212" stroke="#1e1e1e"/>
<circle cx="489.3" cy="151.1" r="3.05" fill="#a4a4a4"/>
<circle cx="499.1" cy="91.6" r="3.05" fill="#f8f8f8"/>
<circle cx="492.9" cy="100" r="3.05" fill="#747474"/>
<circle cx="510.1" cy="101" r="3.05" fill="#747474"/>
<circle cx="526.1" cy="105.4" r="3.05" fill="#a4a4a4"/>
<circle cx="497.3" cy="107.3" r="3.05" fill="#747474"/>
<circle cx="509.4" cy="110.2" r="3.05" fill="#121212" stroke="#1e1e1e"/>
<circle cx="499.1" cy="115.3" r="3.05" fill="#121212" stroke="#1e1e1e"/>
<circle cx="533.8" cy="115.6" r="3.05" fill="#121212" stroke="#1e1e1e"/>
<circle cx="517.3" cy="117.5" r="3.05" fill="#747474"/>
<circle cx="512.9" cy="120.1" r="3.05" fill="#121212" stroke="#1e1e1e"/>
<circle cx="500.9" cy="124" r="3.05" fill="#f8f8f8"/>
<circle cx="522.4" cy="126.2" r="3.05" fill="#d0d0d0"/>
<circle cx="536" cy="127" r="3.05" fill="#d0d0d0"/>
<circle cx="551.3" cy="129.9" r="3.05" fill="#121212" stroke="#1e1e1e"/>
<circle cx="493.6" cy="128.4" r="3.05" fill="#747474"/>
<circle cx="508.2" cy="129.2" r="3.05" fill="#383838"/>
<circle cx="511.9" cy="131.3" r="3.05" fill="#f8f8f8"/>
<circle cx="491.5" cy="133.5" r="3.05" fill="#121212" stroke="#1e1e1e"/>
<circle cx="530.1" cy="134.6" r="3.05" fill="#a4a4a4"/>
<circle cx="496.6" cy="137.2" r="3.05" fill="#383838"/>
<circle cx="507.2" cy="137.9" r="3.05" fill="#121212" stroke="#1e1e1e"/>
<circle cx="518.2" cy="139.4" r="3.05" fill="#f8f8f8"/>
<circle cx="509.7" cy="143" r="3.05" fill="#a4a4a4"/>
<circle cx="506.1" cy="145.2" r="3.05" fill="#383838"/>
<circle cx="528.7" cy="142.3" r="3.05" fill="#383838"/>
<circle cx="546.9" cy="141.6" r="3.05" fill="#a4a4a4"/>
<circle cx="565.9" cy="141.9" r="3.05" fill="#747474"/>
<circle cx="496.6" cy="142.3" r="3.05" fill="#121212" stroke="#1e1e1e"/>
<circle cx="498" cy="146.7" r="3.05" fill="#121212" stroke="#1e1e1e"/>
<circle cx="492.9" cy="149.6" r="3.05" fill="#383838"/>
<circle cx="522.1" cy="148.1" r="3.05" fill="#747474"/>
<circle cx="538.2" cy="148.4" r="3.05" fill="#383838"/>
<circle cx="563" cy="151.8" r="3.05" fill="#d0d0d0"/>
<circle cx="584.9" cy="150.6" r="3.05" fill="#747474"/>
<circle cx="511.9" cy="151.3" r="3.05" fill="#383838"/>
<circle cx="500.2" cy="151.8" r="3.05" fill="#a4a4a4"/>
<circle cx="533.8" cy="154.3" r="3.05" fill="#121212" stroke="#1e1e1e"/>
<circle cx="548.4" cy="154.7" r="3.05" fill="#a4a4a4"/>
<circle cx="440.7" cy="159.4" r="3.05" fill="#747474"/>
<circle cx="448.4" cy="156.8" r="3.05" fill="#121212" stroke="#1e1e1e"/>
<circle cx="452.8" cy="160.1" r="3.05" fill="#383838"/>
<circle cx="464.2" cy="159.8" r="3.05" fill="#d0d0d0"/>
<circle cx="471.3" cy="161.6" r="3.05" fill="#747474"/>
<circle cx="473.9" cy="156.2" r="3.05" fill="#d0d0d0"/>
<circle cx="481.2" cy="158.6" r="3.05" fill="#d0d0d0"/>
<circle cx="485.6" cy="163.8" r="3.05" fill="#d0d0d0"/>
<circle cx="424.3" cy="166.7" r="3.05" fill="#d0d0d0"/>
<circle cx="447.2" cy="164.9" r="3.05" fill="#747474"/>
<circle cx="458.3" cy="164.9" r="3.05" fill="#121212" stroke="#1e1e1e"/>
<circle cx="459.6" cy="169.2" r="3.05" fill="#f8f8f8"/>
<circle cx="473.2" cy="167.7" r="3.05" fill="#747474"/>
<circle cx="483" cy="169.2" r="3.05" fill="#747474"/>
<circle cx="436" cy="173.2" r="3.05" fill="#747474"/>
<circle cx="450.9" cy="174.3" r="3.05" fill="#d0d0d0"/>
<circle cx="463.7" cy="178.1" r="3.05" fill="#a4a4a4"/>
<circle cx="474.2" cy="176.6" r="3.05" fill="#d0d0d0"/>
<circle cx="484.2" cy="179.1" r="3.05" fill="#383838"/>
<circle cx="489.7" cy="179.1" r="3.05" fill="#747474"/>
<circle cx="417.4" cy="182.4" r="3.05" fill="#d0d0d0"/>
<circle cx="437.4" cy="183.5" r="3.05" fill="#f8f8f8"/>
<circle cx="455.4" cy="183.8" r="3.05" fill="#747474"/>
<circle cx="471.8" cy="184.9" r="3.05" fill="#121212" stroke="#1e1e1e"/>
<circle cx="483.7" cy="187.8" r="3.05" fill="#121212" stroke="#1e1e1e"/>
<circle cx="441.1" cy="192.7" r="3.05" fill="#747474"/>
<circle cx="459.6" cy="192.2" r="3.05" fill="#121212" stroke="#1e1e1e"/>
<circle cx="469.3" cy="192.2" r="3.05" fill="#d0d0d0"/>
<circle cx="478.3" cy="190.8" r="3.05" fill="#383838"/>
<circle cx="476.4" cy="196.3" r="3.05" fill="#d0d0d0"/>
<circle cx="489.7" cy="193.7" r="3.05" fill="#383838"/>
<circle cx="426.2" cy="199.2" r="3.05" fill="#383838"/>
<circle cx="453.5" cy="199.2" r="3.05" fill="#d0d0d0"/>
<circle cx="467.4" cy="203.2" r="3.05" fill="#383838"/>
<circle cx="484.5" cy="201" r="3.05" fill="#747474"/>
<circle cx="440.8" cy="207.8" r="3.05" fill="#f8f8f8"/>
<circle cx="479.3" cy="207.1" r="3.05" fill="#747474"/>
<circle cx="458.3" cy="211.2" r="3.05" fill="#d0d0d0"/>
<circle cx="480.2" cy="215.1" r="3.05" fill="#747474"/>
<circle cx="489.7" cy="211.9" r="3.05" fill="#121212" stroke="#1e1e1e"/>
<circle cx="467.4" cy="218.8" r="3.05" fill="#d0d0d0"/>
<circle cx="450.6" cy="222.9" r="3.05" fill="#383838"/>
<circle cx="480.1" cy="225.1" r="3.05" fill="#a4a4a4"/>
<circle cx="466.2" cy="230.9" r="3.05" fill="#a4a4a4"/>
<circle cx="486.4" cy="233.8" r="3.05" fill="#121212" stroke="#1e1e1e"/>
<circle cx="472.5" cy="241.4" r="3.05" fill="#747474"/>
<circle cx="488.5" cy="244.3" r="3.05" fill="#f8f8f8"/>
<circle cx="489.7" cy="221.4" r="3.05" fill="#121212" stroke="#1e1e1e"/>
<circle cx="492.9" cy="156.5" r="3.05" fill="#d0d0d0"/>
<circle cx="499.1" cy="161.6" r="3.05" fill="#383838"/>
<circle cx="511.9" cy="158.6" r="3.05" fill="#747474"/>
<circle cx="520.7" cy="157.9" r="3.05" fill="#121212" stroke="#1e1e1e"/>
<circle cx="517.7" cy="161.6" r="3.05" fill="#383838"/>
<circle cx="529.1" cy="161.6" r="3.05" fill="#747474"/>
<circle cx="541.1" cy="163" r="3.05" fill="#747474"/>
<circle cx="560.8" cy="162.3" r="3.05" fill="#383838"/>
<circle cx="574.4" cy="160.8" r="3.05" fill="#a4a4a4"/>
<circle cx="588.5" cy="163" r="3.05" fill="#747474"/>
<circle cx="492.6" cy="168.9" r="3.05" fill="#121212" stroke="#1e1e1e"/>
<circle cx="492.9" cy="173.2" r="3.05" fill="#383838"/>
<circle cx="505.3" cy="168.9" r="3.05" fill="#747474"/>
<circle cx="509.7" cy="165.2" r="3.05" fill="#747474"/>
<circle cx="511.6" cy="170.3" r="3.05" fill="#383838"/>
<circle cx="503.9" cy="173.2" r="3.05" fill="#747474"/>
<circle cx="521.4" cy="165.2" r="3.05" fill="#383838"/>
<circle cx="527.2" cy="168.4" r="3.05" fill="#d0d0d0"/>
<circle cx="522.1" cy="173.2" r="3.05" fill="#383838"/>
<circle cx="539.6" cy="170.3" r="3.05" fill="#a4a4a4"/>
<circle cx="545.2" cy="174" r="3.05" fill="#a4a4a4"/>
<circle cx="552" cy="168.1" r="3.05" fill="#d0d0d0"/>
<circle cx="568.5" cy="170" r="3.05" fill="#121212" stroke="#1e1e1e"/>
<circle cx="581.5" cy="169.6" r="3.05" fill="#747474"/>
<circle cx="558.3" cy="174.4" r="3.05" fill="#a4a4a4"/>
<circle cx="534.1" cy="176.9" r="3.05" fill="#121212" stroke="#1e1e1e"/>
<circle cx="502.4" cy="179.8" r="3.05" fill="#d0d0d0"/>
<circle cx="511.9" cy="177.6" r="3.05" fill="#747474"/>
<circle cx="514.1" cy="181.3" r="3.05" fill="#a4a4a4"/>
<circle cx="525" cy="180.5" r="3.05" fill="#747474"/>
<circle cx="542.6" cy="181.3" r="3.05" fill="#383838"/>
<circle cx="551.3" cy="179.1" r="3.05" fill="#d0d0d0"/>
<circle cx="562.7" cy="181.6" r="3.05" fill="#747474"/>
<circle cx="571.5" cy="177.6" r="3.05" fill="#f8f8f8"/>
<circle cx="583.4" cy="178.1" r="3.05" fill="#f8f8f8"/>
<circle cx="494.4" cy="183.5" r="3.05" fill="#121212" stroke="#1e1e1e"/>
<circle cx="505.3" cy="185.7" r="3.05" fill="#a4a4a4"/>
<circle cx="516" cy="185.7" r="3.05" fill="#a4a4a4"/>
<circle cx="517" cy="190" r="3.05" fill="#121212" stroke="#1e1e1e"/>
<circle cx="528.7" cy="184.2" r="3.05" fill="#383838"/>
<circle cx="526.5" cy="188.6" r="3.05" fill="#747474"/>
<circle cx="536.7" cy="186.1" r="3.05" fill="#f8f8f8"/>
<circle cx="544.7" cy="187.8" r="3.05" fill="#121212" stroke="#1e1e1e"/>
<circle cx="552" cy="184.9" r="3.05" fill="#a4a4a4"/>
<circle cx="558.6" cy="188.6" r="3.05" fill="#d0d0d0"/>
<circle cx="568.8" cy="187.1" r="3.05" fill="#383838"/>
<circle cx="577.2" cy="184.2" r="3.05" fill="#a4a4a4"/>
<circle cx="579.3" cy="190" r="3.05" fill="#747474"/>
<circle cx="587.1" cy="184.9" r="3.05" fill="#747474"/>
<circle cx="497.3" cy="189.3" r="3.05" fill="#383838"/>
<circle cx="507.5" cy="192.2" r="3.05" fill="#a4a4a4"/>
<circle cx="518.5" cy="194.7" r="3.05" fill="#383838"/>
<circle cx="527.2" cy="194.4" r="3.05" fill="#383838"/>
<circle cx="535.3" cy="191.5" r="3.05" fill="#a4a4a4"/>
<circle cx="540.4" cy="190.8" r="3.05" fill="#d0d0d0"/>
<circle cx="543.3" cy="194.4" r="3.05" fill="#f8f8f8"/>
<circle cx="549.1" cy="190.8" r="3.05" fill="#383838"/>
<circle cx="555.7" cy="193.7" r="3.05" fill="#383838"/>
<circle cx="565.2" cy="192.2" r="3.05" fill="#747474"/>
<circle cx="573.2" cy="194.4" r="3.05" fill="#747474"/>
<circle cx="585.6" cy="192.2" r="3.05" fill="#747474"/>
<circle cx="499.5" cy="196.6" r="3.05" fill="#383838"/>
<circle cx="509" cy="197.3" r="3.05" fill="#a4a4a4"/>
<circle cx="515.5" cy="199.5" r="3.05" fill="#d0d0d0"/>
<circle cx="536" cy="197.3" r="3.05" fill="#747474"/>
<circle cx="548.4" cy="198.1" r="3.05" fill="#383838"/>
<circle cx="561.5" cy="197.3" r="3.05" fill="#747474"/>
<circle cx="568.8" cy="199.5" r="3.05" fill="#d0d0d0"/>
<circle cx="582.7" cy="196.6" r="3.05" fill="#747474"/>
<circle cx="589.7" cy="193" r="3.05" fill="#747474"/>
<circle cx="494.4" cy="203.9" r="3.05" fill="#d0d0d0"/>
<circle cx="503.1" cy="203.2" r="3.05" fill="#a4a4a4"/>
<circle cx="514.1" cy="206.1" r="3.05" fill="#d0d0d0"/>
<circle cx="523.6" cy="201" r="3.05" fill="#383838"/>
<circle cx="532.3" cy="202.4" r="3.05" fill="#d0d0d0"/>
<circle cx="541.1" cy="201" r="3.05" fill="#747474"/>
<circle cx="553.5" cy="201.7" r="3.05" fill="#383838"/>
<circle cx="561.5" cy="202.4" r="3.05" fill="#a4a4a4"/>
<circle cx="577.2" cy="201.4" r="3.05" fill="#f8f8f8"/>
<circle cx="587.1" cy="201.7" r="3.05" fill="#f8f8f8"/>
<circle cx="521.4" cy="206.8" r="3.05" fill="#121212" stroke="#1e1e1e"/>
<circle cx="529.4" cy="207.6" r="3.05" fill="#383838"/>
<circle cx="538.2" cy="205.4" r="3.05" fill="#747474"/>
<circle cx="547.7" cy="206.1" r="3.05" fill="#a4a4a4"/>
<circle cx="555.7" cy="206.8" r="3.05" fill="#d0d0d0"/>
<circle cx="563.7" cy="207.6" r="3.05" fill="#747474"/>
<circle cx="571" cy="205.4" r="3.05" fill="#383838"/>
<circle cx="581.7" cy="206.1" r="3.05" fill="#a4a4a4"/>
<circle cx="589.7" cy="206.8" r="3.05" fill="#121212" stroke="#1e1e1e"/>
<circle cx="576.1" cy="209.7" r="3.05" fill="#121212" stroke="#1e1e1e"/>
<circle cx="503.9" cy="209.7" r="3.05" fill="#d0d0d0"/>
<circle cx="513.6" cy="212.7" r="3.05" fill="#383838"/>
<circle cx="523.6" cy="213.4" r="3.05" fill="#383838"/>
<circle cx="530.9" cy="214.1" r="3.05" fill="#d0d0d0"/>
<circle cx="538.9" cy="209.7" r="3.05" fill="#d0d0d0"/>
<circle cx="544.7" cy="212.7" r="3.05" fill="#747474"/>
<circle cx="538.9" cy="214.9" r="3.05" fill="#a4a4a4"/>
<circle cx="549.9" cy="216.3" r="3.05" fill="#121212" stroke="#1e1e1e"/>
<circle cx="557.9" cy="214.1" r="3.05" fill="#747474"/>
<circle cx="565.2" cy="214.9" r="3.05" fill="#747474"/>
<circle cx="570.6" cy="212.7" r="3.05" fill="#f8f8f8"/>
<circle cx="576.1" cy="214.1" r="3.05" fill="#121212" stroke="#1e1e1e"/>
<circle cx="584.2" cy="211.9" r="3.05" fill="#a4a4a4"/>
<circle cx="589.7" cy="213.4" r="3.05" fill="#747474"/>
<circle cx="502.4" cy="217.8" r="3.05" fill="#f8f8f8"/>
<circle cx="513.4" cy="218.8" r="3.05" fill="#747474"/>
<circle cx="523.6" cy="219.2" r="3.05" fill="#f8f8f8"/>
<circle cx="533.1" cy="220" r="3.05" fill="#121212" stroke="#1e1e1e"/>
<circle cx="543.3" cy="219.2" r="3.05" fill="#a4a4a4"/>
<circle cx="549.9" cy="221.4" r="3.05" fill="#383838"/>
<circle cx="558.6" cy="219.2" r="3.05" fill="#383838"/>
<circle cx="565.2" cy="219.2" r="3.05" fill="#a4a4a4"/>
<circle cx="571.8" cy="219.2" r="3.05" fill="#d0d0d0"/>
<circle cx="580.5" cy="217.8" r="3.05" fill="#383838"/>
<circle cx="587.1" cy="222.9" r="3.05" fill="#121212" stroke="#1e1e1e"/>
<circle cx="508.2" cy="224.8" r="3.05" fill="#747474"/>
<circle cx="519.2" cy="225.8" r="3.05" fill="#d0d0d0"/>
<circle cx="529.4" cy="225.4" r="3.05" fill="#383838"/>
<circle cx="539.6" cy="224.3" r="3.05" fill="#383838"/>
<circle cx="548.4" cy="226.5" r="3.05" fill="#747474"/>
<circle cx="558.6" cy="223.6" r="3.05" fill="#747474"/>
<circle cx="568.8" cy="223.6" r="3.05" fill="#747474"/>
<circle cx="577.6" cy="223.6" r="3.05" fill="#747474"/>
<circle cx="498" cy="229.5" r="3.05" fill="#a4a4a4"/>
<circle cx="512.6" cy="232.4" r="3.05" fill="#d0d0d0"/>
<circle cx="525.5" cy="231.4" r="3.05" fill="#747474"/>
<circle cx="536.7" cy="230.2" r="3.05" fill="#383838"/>
<circle cx="546.2" cy="233.8" r="3.05" fill="#d0d0d0"/>
<circle cx="555.7" cy="229.5" r="3.05" fill="#d0d0d0"/>
<circle cx="564.5" cy="228" r="3.05" fill="#a4a4a4"/>
<circle cx="573.2" cy="228.7" r="3.05" fill="#383838"/>
<circle cx="582.7" cy="227.3" r="3.05" fill="#a4a4a4"/>
<circle cx="589.7" cy="230.2" r="3.05" fill="#747474"/>
<circle cx="564.5" cy="234.6" r="3.05" fill="#d0d0d0"/>
<circle cx="574.7" cy="234.6" r="3.05" fill="#383838"/>
<circle cx="583.4" cy="233.8" r="3.05" fill="#383838"/>
<circle cx="501.7" cy="238.2" r="3.05" fill="#d0d0d0"/>
<circle cx="523.6" cy="239.4" r="3.05" fill="#121212" stroke="#1e1e1e"/>
<circle cx="536.7" cy="236.8" r="3.05" fill="#a4a4a4"/>
<circle cx="555.7" cy="235.3" r="3.05" fill="#a4a4a4"/>
<circle cx="512.6" cy="243.6" r="3.05" fill="#747474"/>
<circle cx="533.8" cy="243.3" r="3.05" fill="#d0d0d0"/>
<circle cx="545.9" cy="242.2" r="3.05" fill="#d0d0d0"/>
<circle cx="556.4" cy="242.6" r="3.05" fill="#747474"/>
<circle cx="568.1" cy="239.7" r="3.05" fill="#d0d0d0"/>
<circle cx="578.3" cy="241.1" r="3.05" fill="#f8f8f8"/>
<circle cx="586.4" cy="238.2" r="3.05" fill="#747474"/>
<circle cx="565.2" cy="246.2" r="3.05" fill="#f8f8f8"/>
<circle cx="546.2" cy="247.3" r="3.05" fill="#383838"/>
<circle cx="573.9" cy="246.2" r="3.05" fill="#747474"/>
<circle cx="584.9" cy="245.5" r="3.05" fill="#383838"/>
<circle cx="603.5" cy="159.1" r="3.05" fill="#d0d0d0"/>
<circle cx="620.5" cy="164.1" r="3.05" fill="#747474"/>
<circle cx="603.5" cy="169.2" r="3.05" fill="#747474"/>
<circle cx="630" cy="172.1" r="3.05" fill="#f8f8f8"/>
<circle cx="593.8" cy="174.7" r="3.05" fill="#f8f8f8"/>
<circle cx="611.7" cy="176.6" r="3.05" fill="#383838"/>
<circle cx="641.9" cy="179.5" r="3.05" fill="#d0d0d0"/>
<circle cx="600.3" cy="181.7" r="3.05" fill="#747474"/>
<circle cx="623.7" cy="181.7" r="3.05" fill="#383838"/>
<circle cx="612" cy="186.4" r="3.05" fill="#a4a4a4"/>
<circle cx="598.4" cy="188.6" r="3.05" fill="#d0d0d0"/>
<circle cx="629.5" cy="189.6" r="3.05" fill="#a4a4a4"/>
<circle cx="646.8" cy="189.6" r="3.05" fill="#121212" stroke="#1e1e1e"/>
<circle cx="607.3" cy="193.2" r="3.05" fill="#747474"/>
<circle cx="619.6" cy="194.7" r="3.05" fill="#a4a4a4"/>
<circle cx="595.9" cy="197.3" r="3.05" fill="#383838"/>
<circle cx="637.6" cy="197.6" r="3.05" fill="#f8f8f8"/>
<circle cx="659.7" cy="197.3" r="3.05" fill="#d0d0d0"/>
<circle cx="597.1" cy="203.2" r="3.05" fill="#121212" stroke="#1e1e1e"/>
<circle cx="605.4" cy="200.3" r="3.05" fill="#747474"/>
<circle cx="614.9" cy="201.7" r="3.05" fill="#747474"/>
<circle cx="627" cy="202.4" r="3.05" fill="#a4a4a4"/>
<circle cx="646.3" cy="204.3" r="3.05" fill="#a4a4a4"/>
<circle cx="599.6" cy="209" r="3.05" fill="#747474"/>
<circle cx="608.4" cy="206.1" r="3.05" fill="#383838"/>
<circle cx="615.4" cy="209" r="3.05" fill="#d0d0d0"/>
<circle cx="625.4" cy="210.5" r="3.05" fill="#383838"/>
<circle cx="636.8" cy="209" r="3.05" fill="#747474"/>
<circle cx="659.7" cy="209" r="3.05" fill="#383838"/>
<circle cx="593" cy="213.4" r="3.05" fill="#a4a4a4"/>
<circle cx="599.6" cy="216.3" r="3.05" fill="#383838"/>
<circle cx="606.9" cy="213.4" r="3.05" fill="#383838"/>
<circle cx="615.4" cy="215.6" r="3.05" fill="#a4a4a4"/>
<circle cx="624.7" cy="217" r="3.05" fill="#d0d0d0"/>
<circle cx="635.8" cy="216.8" r="3.05" fill="#f8f8f8"/>
<circle cx="648.1" cy="216" r="3.05" fill="#747474"/>
<circle cx="667" cy="218.2" r="3.05" fill="#a4a4a4"/>
<circle cx="588.6" cy="219.2" r="3.05" fill="#a4a4a4"/>
<circle cx="594.9" cy="221" r="3.05" fill="#f8f8f8"/>
<circle cx="602.5" cy="223.6" r="3.05" fill="#383838"/>
<circle cx="609.1" cy="220" r="3.05" fill="#a4a4a4"/>
<circle cx="612.7" cy="224.3" r="3.05" fill="#747474"/>
<circle cx="619.6" cy="222.4" r="3.05" fill="#a4a4a4"/>
<circle cx="628.5" cy="222.9" r="3.05" fill="#a4a4a4"/>
<circle cx="638.7" cy="223.9" r="3.05" fill="#747474"/>
<circle cx="650" cy="225.1" r="3.05" fill="#d0d0d0"/>
<circle cx="663.1" cy="228.4" r="3.05" fill="#383838"/>
<circle cx="594.5" cy="226.5" r="3.05" fill="#383838"/>
<circle cx="599.2" cy="230.5" r="3.05" fill="#747474"/>
<circle cx="606.2" cy="228" r="3.05" fill="#747474"/>
<circle cx="614.2" cy="230.2" r="3.05" fill="#d0d0d0"/>
<circle cx="621.1" cy="227.6" r="3.05" fill="#f8f8f8"/>
<circle cx="629.8" cy="228.4" r="3.05" fill="#f8f8f8"/>
<circle cx="620" cy="230.9" r="3.05" fill="#121212" stroke="#1e1e1e"/>
<circle cx="638.3" cy="230.9" r="3.05" fill="#d0d0d0"/>
<circle cx="647" cy="233.1" r="3.05" fill="#f8f8f8"/>
<circle cx="592.3" cy="235.3" r="3.05" fill="#383838"/>
<circle cx="605.4" cy="233.8" r="3.05" fill="#383838"/>
<circle cx="612.7" cy="235.3" r="3.05" fill="#747474"/>
<circle cx="620.5" cy="235" r="3.05" fill="#a4a4a4"/>
<circle cx="628.4" cy="233.8" r="3.05" fill="#a4a4a4"/>
<circle cx="632.9" cy="236.5" r="3.05" fill="#f8f8f8"/>
<circle cx="642.4" cy="238.5" r="3.05" fill="#d0d0d0"/>
<circle cx="655.5" cy="238.2" r="3.05" fill="#f8f8f8"/>
<circle cx="670.7" cy="238.2" r="3.05" fill="#747474"/>
<circle cx="590.4" cy="241.1" r="3.05" fill="#747474"/>
<circle cx="599.2" cy="238.9" r="3.05" fill="#d0d0d0"/>
<circle cx="606.9" cy="240.4" r="3.05" fill="#d0d0d0"/>
<circle cx="616.4" cy="240.4" r="3.05" fill="#747474"/>
<circle cx="624.7" cy="238.9" r="3.05" fill="#d0d0d0"/>
<circle cx="635.4" cy="242.2" r="3.05" fill="#d0d0d0"/>
<circle cx="628.8" cy="243.3" r="3.05" fill="#747474"/>
<circle cx="648.5" cy="242.6" r="3.05" fill="#d0d0d0"/>
<circle cx="653.6" cy="245.1" r="3.05" fill="#a4a4a4"/>
<circle cx="598.1" cy="245.1" r="3.05" fill="#121212" stroke="#1e1e1e"/>
<circle cx="608.4" cy="246.2" r="3.05" fill="#747474"/>
<circle cx="620" cy="247" r="3.05" fill="#d0d0d0"/>
<circle cx="630.3" cy="247.3" r="3.05" fill="#f8f8f8"/>
<circle cx="639.7" cy="247" r="3.05" fill="#f8f8f8"/>
<circle cx="646.3" cy="247.3" r="3.05" fill="#f8f8f8"/>
<circle cx="501.1" cy="251.3" r="3.05" fill="#747474"/>
<circle cx="516.6" cy="253.1" r="3.05" fill="#f8f8f8"/>
<circle cx="520.7" cy="265.2" r="3.05" fill="#383838"/>
<circle cx="532.2" cy="251.3" r="3.05" fill="#747474"/>
<circle cx="535.8" cy="259.2" r="3.05" fill="#747474"/>
<circle cx="549.5" cy="257.7" r="3.05" fill="#121212" stroke="#1e1e1e"/>
<circle cx="546.4" cy="268.8" r="3.05" fill="#383838"/>
<circle cx="559.2" cy="252.4" r="3.05" fill="#a4a4a4"/>
<circle cx="562.6" cy="263.4" r="3.05" fill="#d0d0d0"/>
<circle cx="632.4" cy="251.9" r="3.05" fill="#d0d0d0"/>
<circle cx="652.2" cy="248.8" r="3.05" fill="#d0d0d0"/>
<circle cx="655.8" cy="251.9" r="3.05" fill="#a4a4a4"/>
<circle cx="571.3" cy="255" r="3.05" fill="#d0d0d0"/>
<circle cx="583.7" cy="255" r="3.05" fill="#747474"/>
<circle cx="595.6" cy="251.9" r="3.05" fill="#747474"/>
<circle cx="607.1" cy="252.8" r="3.05" fill="#a4a4a4"/>
<circle cx="619.3" cy="254.2" r="3.05" fill="#a4a4a4"/>
<circle cx="590.7" cy="259.2" r="3.05" fill="#747474"/>
<circle cx="605.6" cy="261" r="3.05" fill="#a4a4a4"/>
<circle cx="624.8" cy="260.4" r="3.05" fill="#d0d0d0"/>
<circle cx="639.4" cy="264.6" r="3.05" fill="#a4a4a4"/>
<circle cx="576.4" cy="263.7" r="3.05" fill="#383838"/>
<circle cx="592.5" cy="270.5" r="3.05" fill="#383838"/>
<circle cx="613.3" cy="270.1" r="3.05" fill="#747474"/>
<circle cx="577" cy="273.8" r="3.05" fill="#f8f8f8"/>
<!--C-->
<circle cx="125.9" cy="411.6" r="3.05" fill="#d0d0d0"/>
<circle cx="131.7" cy="426.2" r="3.05" fill="#f8f8f8"/>
<circle cx="105.3" cy="429.6" r="3.05" fill="#121212" stroke="#1e1e1e"/>
<circle cx="131.3" cy="435.7" r="3.05" fill="#a4a4a4"/>
<circle cx="89.7" cy="441.8" r="3.05" fill="#a4a4a4"/>
<circle cx="87.8" cy="445.9" r="3.05" fill="#383838"/>
<circle cx="113.3" cy="441.5" r="3.05" fill="#f8f8f8"/>
<circle cx="125.9" cy="443.4" r="3.05" fill="#a4a4a4"/>
<circle cx="99.4" cy="457.2" r="3.05" fill="#d0d0d0"/>
<circle cx="105" cy="458.3" r="3.05" fill="#d0d0d0"/>
<circle cx="111.6" cy="459.1" r="3.05" fill="#383838"/>
<circle cx="107.9" cy="461.2" r="3.05" fill="#121212" stroke="#1e1e1e"/>
<circle cx="118.9" cy="453.5" r="3.05" fill="#747474"/>
<circle cx="126.2" cy="453.2" r="3.05" fill="#383838"/>
<circle cx="128.4" cy="450.3" r="3.05" fill="#121212" stroke="#1e1e1e"/>
<circle cx="131.3" cy="450.3" r="3.05" fill="#a4a4a4"/>
<circle cx="126.9" cy="461.2" r="3.05" fill="#747474"/>
<circle cx="81.6" cy="462.3" r="3.05" fill="#121212" stroke="#1e1e1e"/>
<circle cx="231.3" cy="395.1" r="3.05" fill="#383838"/>
<circle cx="161.2" cy="400.4" r="3.05" fill="#747474"/>
<circle cx="205" cy="401.1" r="3.05" fill="#383838"/>
<circle cx="213.3" cy="400.2" r="3.05" fill="#a4a4a4"/>
<circle cx="176.5" cy="406.2" r="3.05" fill="#f8f8f8"/>
<circle cx="174.3" cy="409.7" r="3.05" fill="#d0d0d0"/>
<circle cx="178.7" cy="412.3" r="3.05" fill="#747474"/>
<circle cx="200.2" cy="405.5" r="3.05" fill="#f8f8f8"/>
<circle cx="199.2" cy="409.1" r="3.05" fill="#383838"/>
<circle cx="152.7" cy="415" r="3.05" fill="#a4a4a4"/>
<circle cx="167.3" cy="414.5" r="3.05" fill="#383838"/>
<circle cx="220.6" cy="415.5" r="3.05" fill="#747474"/>
<circle cx="231.7" cy="411.6" r="3.05" fill="#a4a4a4"/>
<circle cx="231.7" cy="416.7" r="3.05" fill="#383838"/>
<circle cx="197.4" cy="421.8" r="3.05" fill="#383838"/>
<circle cx="207.5" cy="424.5" r="3.05" fill="#d0d0d0"/>
<circle cx="213.8" cy="422.8" r="3.05" fill="#a4a4a4"/>
<circle cx="135.6" cy="426.2" r="3.05" fill="#121212" stroke="#1e1e1e"/>
<circle cx="159" cy="429.9" r="3.05" fill="#383838"/>
<circle cx="179.4" cy="427.7" r="3.05" fill="#f8f8f8"/>
<circle cx="183.1" cy="431.3" r="3.05" fill="#383838"/>
<circle cx="187.9" cy="429.9" r="3.05" fill="#d0d0d0"/>
<circle cx="206.5" cy="429.1" r="3.05" fill="#383838"/>
<circle cx="229.8" cy="426.2" r="3.05" fill="#f8f8f8"/>
<circle cx="226.2" cy="429.9" r="3.05" fill="#a4a4a4"/>
<circle cx="229.1" cy="432" r="3.05" fill="#d0d0d0"/>
<circle cx="154.6" cy="435.7" r="3.05" fill="#a4a4a4"/>
<circle cx="168.5" cy="432.8" r="3.05" fill="#747474"/>
<circle cx="165.3" cy="437.2" r="3.05" fill="#383838"/>
<circle cx="163.4" cy="440.8" r="3.05" fill="#747474"/>
<circle cx="182.7" cy="437.2" r="3.05" fill="#a4a4a4"/>
<circle cx="200.6" cy="434.2" r="3.05" fill="#747474"/>
<circle cx="225.4" cy="435.7" r="3.05" fill="#d0d0d0"/>
<circle cx="222.5" cy="438.2" r="3.05" fill="#a4a4a4"/>
<circle cx="145.9" cy="438.6" r="3.05" fill="#a4a4a4"/>
<circle cx="142.9" cy="444.5" r="3.05" fill="#383838"/>
<circle cx="144.4" cy="448.1" r="3.05" fill="#383838"/>
<circle cx="147.3" cy="452.5" r="3.05" fill="#d0d0d0"/>
<circle cx="155.4" cy="447.4" r="3.05" fill="#a4a4a4"/>
<circle cx="158.7" cy="447.4" r="3.05" fill="#383838"/>
<circle cx="177.7" cy="445.5" r="3.05" fill="#f8f8f8"/>
<circle cx="173.3" cy="450.3" r="3.05" fill="#f8f8f8"/>
<circle cx="191.1" cy="444.5" r="3.05" fill="#d0d0d0"/>
<circle cx="196.2" cy="442.6" r="3.05" fill="#121212" stroke="#1e1e1e"/>
<circle cx="197" cy="448.1" r="3.05" fill="#f8f8f8"/>
<circle cx="207.9" cy="442.3" r="3.05" fill="#f8f8f8"/>
<circle cx="221.1" cy="445.9" r="3.05" fill="#d0d0d0"/>
<circle cx="217.4" cy="449.6" r="3.05" fill="#a4a4a4"/>
<circle cx="227.6" cy="446.9" r="3.05" fill="#747474"/>
<circle cx="134.9" cy="457.6" r="3.05" fill="#383838"/>
<circle cx="146.2" cy="458.6" r="3.05" fill="#a4a4a4"/>
<circle cx="159.7" cy="457.2" r="3.05" fill="#383838"/>
<circle cx="167.8" cy="452.9" r="3.05" fill="#383838"/>
<circle cx="169.7" cy="455.4" r="3.05" fill="#747474"/>
<circle cx="175.4" cy="457.2" r="3.05" fill="#d0d0d0"/>
<circle cx="184.6" cy="457.2" r="3.05" fill="#121212" stroke="#1e1e1e"/>
<circle cx="199.2" cy="453.5" r="3.05" fill="#a4a4a4"/>
<circle cx="195.5" cy="456.1" r="3.05" fill="#383838"/>
<circle cx="206.9" cy="452.8" r="3.05" fill="#f8f8f8"/>
<circle cx="208.9" cy="461.2" r="3.05" fill="#d0d0d0"/>
<circle cx="228.4" cy="458.3" r="3.05" fill="#383838"/>
<circle cx="231.7" cy="454.7" r="3.05" fill="#747474"/>
<circle cx="263.1" cy="381.7" r="3.05" fill="#a4a4a4"/>
<circle cx="263.1" cy="379.5" r="3.05" fill="#f8f8f8"/>
<circle cx="282.4" cy="385.8" r="3.05" fill="#383838"/>
<circle cx="244" cy="389.7" r="3.05" fill="#a4a4a4"/>
<circle cx="287.5" cy="389" r="3.05" fill="#383838"/>
<circle cx="285.3" cy="391.6" r="3.05" fill="#d0d0d0"/>
<circle cx="292.3" cy="390.9" r="3.05" fill="#d0d0d0"/>
<circle cx="304.6" cy="388.7" r="3.05" fill="#a4a4a4"/>
<circle cx="300.6" cy="393.4" r="3.05" fill="#d0d0d0"/>
<circle cx="306.9" cy="392.6" r="3.05" fill="#a4a4a4"/>
<circle cx="313.3" cy="397.4" r="3.05" fill="#a4a4a4"/>
<circle cx="263.8" cy="394.1" r="3.05" fill="#a4a4a4"/>
<circle cx="273.3" cy="394.1" r="3.05" fill="#747474"/>
<circle cx="281.2" cy="396.3" r="3.05" fill="#a4a4a4"/>
<circle cx="291.1" cy="394.1" r="3.05" fill="#747474"/>
<circle cx="241.1" cy="398.5" r="3.05" fill="#747474"/>
<circle cx="238.9" cy="401.4" r="3.05" fill="#d0d0d0"/>
<circle cx="259" cy="399.2" r="3.05" fill="#a4a4a4"/>
<circle cx="265.6" cy="399.2" r="3.05" fill="#747474"/>
<circle cx="271.4" cy="400.4" r="3.05" fill="#f8f8f8"/>
<circle cx="277.3" cy="403.6" r="3.05" fill="#747474"/>
<circle cx="287.9" cy="400.9" r="3.05" fill="#f8f8f8"/>
<circle cx="294.8" cy="400.7" r="3.05" fill="#747474"/>
<circle cx="308.6" cy="400.7" r="3.05" fill="#a4a4a4"/>
<circle cx="254.6" cy="404.3" r="3.05" fill="#f8f8f8"/>
<circle cx="259.7" cy="405" r="3.05" fill="#f8f8f8"/>
<circle cx="264.8" cy="404.3" r="3.05" fill="#383838"/>
<circle cx="281.6" cy="401.4" r="3.05" fill="#747474"/>
<circle cx="268.5" cy="408" r="3.05" fill="#383838"/>
<circle cx="267" cy="411.3" r="3.05" fill="#a4a4a4"/>
<circle cx="276.8" cy="411.6" r="3.05" fill="#d0d0d0"/>
<circle cx="305.7" cy="409.1" r="3.05" fill="#383838"/>
<circle cx="309.4" cy="409.1" r="3.05" fill="#a4a4a4"/>
<circle cx="239.3" cy="412.3" r="3.05" fill="#747474"/>
<circle cx="241.5" cy="414.5" r="3.05" fill="#383838"/>
<circle cx="253.2" cy="414.2" r="3.05" fill="#d0d0d0"/>
<circle cx="286.7" cy="414.8" r="3.05" fill="#d0d0d0"/>
<circle cx="298.4" cy="416.7" r="3.05" fill="#383838"/>
<circle cx="294.8" cy="413.4" r="3.05" fill="#f8f8f8"/>
<circle cx="298.9" cy="421.1" r="3.05" fill="#d0d0d0"/>
<circle cx="237.4" cy="422.1" r="3.05" fill="#d0d0d0"/>
<circle cx="263.1" cy="416.4" r="3.05" fill="#a4a4a4"/>
<circle cx="259.7" cy="420.4" r="3.05" fill="#121212" stroke="#1e1e1e"/>
<circle cx="271.4" cy="418.2" r="3.05" fill="#383838"/>
<circle cx="278" cy="418.5" r="3.05" fill="#d0d0d0"/>
<circle cx="281.6" cy="421.8" r="3.05" fill="#747474"/>
<circle cx="308.4" cy="418.9" r="3.05" fill="#383838"/>
<circle cx="315.2" cy="419.6" r="3.05" fill="#d0d0d0"/>
<circle cx="306" cy="425.2" r="3.05" fill="#383838"/>
<circle cx="245.1" cy="425.2" r="3.05" fill="#747474"/>
<circle cx="251" cy="423.3" r="3.05" fill="#f8f8f8"/>
<circle cx="254.6" cy="427.2" r="3.05" fill="#a4a4a4"/>
<circle cx="268.2" cy="426.6" r="3.05" fill="#747474"/>
<circle cx="272.9" cy="422.6" r="3.05" fill="#747474"/>
<circle cx="275.5" cy="424.7" r="3.05" fill="#f8f8f8"/>
<circle cx="282.4" cy="427.4" r="3.05" fill="#383838"/>
<circle cx="275.8" cy="429.1" r="3.05" fill="#d0d0d0"/>
<circle cx="274.3" cy="432" r="3.05" fill="#747474"/>
<circle cx="288.2" cy="430.6" r="3.05" fill="#383838"/>
<circle cx="290.4" cy="433.8" r="3.05" fill="#383838"/>
<circle cx="292.6" cy="431" r="3.05" fill="#d0d0d0"/>
<circle cx="252" cy="433.5" r="3.05" fill="#f8f8f8"/>
<circle cx="259.7" cy="433.1" r="3.05" fill="#d0d0d0"/>
<circle cx="246.6" cy="437.4" r="3.05" fill="#d0d0d0"/>
<circle cx="236.4" cy="439.8" r="3.05" fill="#d0d0d0"/>
<circle cx="305.7" cy="436.9" r="3.05" fill="#a4a4a4"/>
<circle cx="271.9" cy="438.9" r="3.05" fill="#383838"/>
<circle cx="253.2" cy="441.5" r="3.05" fill="#121212" stroke="#1e1e1e"/>
<circle cx="250.2" cy="442.6" r="3.05" fill="#d0d0d0"/>
<circle cx="253.9" cy="445.9" r="3.05" fill="#f8f8f8"/>
<circle cx="261.6" cy="443.4" r="3.05" fill="#121212" stroke="#1e1e1e"/>
<circle cx="282.4" cy="443" r="3.05" fill="#f8f8f8"/>
<circle cx="277.3" cy="446.9" r="3.05" fill="#747474"/>
<circle cx="234.2" cy="448.4" r="3.05" fill="#f8f8f8"/>
<circle cx="246.6" cy="449.6" r="3.05" fill="#d0d0d0"/>
<circle cx="269.7" cy="452.8" r="3.05" fill="#383838"/>
<circle cx="286" cy="453.2" r="3.05" fill="#383838"/>
<circle cx="285.3" cy="454.7" r="3.05" fill="#d0d0d0"/>
<circle cx="305.7" cy="453.9" r="3.05" fill="#121212" stroke="#1e1e1e"/>
<circle cx="306.9" cy="450.3" r="3.05" fill="#f8f8f8"/>
<circle cx="305" cy="458.6" r="3.05" fill="#d0d0d0"/>
<circle cx="246.2" cy="458.3" r="3.05" fill="#a4a4a4"/>
<circle cx="81.6" cy="465.2" r="3.05" fill="#747474"/>
<circle cx="105" cy="464.8" r="3.05" fill="#a4a4a4"/>
<circle cx="115.6" cy="469.3" r="3.05" fill="#f8f8f8"/>
<circle cx="127.6" cy="464.5" r="3.05" fill="#383838"/>
<circle cx="128.4" cy="471" r="3.05" fill="#747474"/>
<circle cx="67" cy="477.2" r="3.05" fill="#747474"/>
<circle cx="64.4" cy="481.5" r="3.05" fill="#f8f8f8"/>
<circle cx="100.6" cy="476.4" r="3.05" fill="#f8f8f8"/>
<circle cx="105.7" cy="478" r="3.05" fill="#d0d0d0"/>
<circle cx="120.6" cy="475.4" r="3.05" fill="#a4a4a4"/>
<circle cx="126.6" cy="478.3" r="3.05" fill="#f8f8f8"/>
<circle cx="121.8" cy="481.2" r="3.05" fill="#383838"/>
<circle cx="87.8" cy="483.4" r="3.05" fill="#383838"/>
<circle cx="101.1" cy="483.1" r="3.05" fill="#f8f8f8"/>
<circle cx="110.8" cy="486.4" r="3.05" fill="#747474"/>
<circle cx="107.9" cy="488.5" r="3.05" fill="#121212" stroke="#1e1e1e"/>
<circle cx="111.6" cy="490.7" r="3.05" fill="#d0d0d0"/>
<circle cx="125" cy="487.8" r="3.05" fill="#121212" stroke="#1e1e1e"/>
<circle cx="86" cy="490.4" r="3.05" fill="#d0d0d0"/>
<circle cx="68.2" cy="493.9" r="3.05" fill="#121212" stroke="#1e1e1e"/>
<circle cx="101.1" cy="495.1" r="3.05" fill="#383838"/>
<circle cx="118.1" cy="495.1" r="3.05" fill="#f8f8f8"/>
<circle cx="122.5" cy="493.7" r="3.05" fill="#d0d0d0"/>
<circle cx="131.7" cy="495.8" r="3.05" fill="#747474"/>
<circle cx="81.6" cy="498" r="3.05" fill="#383838"/>
<circle cx="77.3" cy="501.2" r="3.05" fill="#383838"/>
<circle cx="91.1" cy="500.2" r="3.05" fill="#f8f8f8"/>
<circle cx="88.2" cy="502.1" r="3.05" fill="#121212" stroke="#1e1e1e"/>
<circle cx="84.8" cy="504.2" r="3.05" fill="#d0d0d0"/>
<circle cx="106.5" cy="502.1" r="3.05" fill="#d0d0d0"/>
<circle cx="47.3" cy="503.9" r="3.05" fill="#d0d0d0"/>
<circle cx="68.5" cy="505.3" r="3.05" fill="#383838"/>
<circle cx="74" cy="506.5" r="3.05" fill="#383838"/>
<circle cx="60" cy="509" r="3.05" fill="#383838"/>
<circle cx="88.6" cy="510.4" r="3.05" fill="#383838"/>
<circle cx="105.7" cy="508.3" r="3.05" fill="#121212" stroke="#1e1e1e"/>
<circle cx="118.9" cy="506.5" r="3.05" fill="#121212" stroke="#1e1e1e"/>
<circle cx="125" cy="504.6" r="3.05" fill="#383838"/>
<circle cx="115.9" cy="509.7" r="3.05" fill="#383838"/>
<circle cx="127.6" cy="510.4" r="3.05" fill="#a4a4a4"/>
<circle cx="71.4" cy="513.8" r="3.05" fill="#121212" stroke="#1e1e1e"/>
<circle cx="80.9" cy="514.8" r="3.05" fill="#d0d0d0"/>
<circle cx="86.7" cy="515.6" r="3.05" fill="#383838"/>
<circle cx="90.4" cy="518.5" r="3.05" fill="#383838"/>
<circle cx="102.1" cy="514.1" r="3.05" fill="#121212" stroke="#1e1e1e"/>
<circle cx="105.7" cy="516.6" r="3.05" fill="#f8f8f8"/>
<circle cx="113.8" cy="514.1" r="3.05" fill="#383838"/>
<circle cx="126.2" cy="515.6" r="3.05" fill="#121212" stroke="#1e1e1e"/>
<circle cx="131.7" cy="514.8" r="3.05" fill="#383838"/>
<circle cx="50.2" cy="521.4" r="3.05" fill="#a4a4a4"/>
<circle cx="53.9" cy="521" r="3.05" fill="#a4a4a4"/>
<circle cx="68.8" cy="522.9" r="3.05" fill="#121212" stroke="#1e1e1e"/>
<circle cx="93.3" cy="522.1" r="3.05" fill="#a4a4a4"/>
<circle cx="101.8" cy="522.1" r="3.05" fill="#121212" stroke="#1e1e1e"/>
<circle cx="111.6" cy="521.7" r="3.05" fill="#f8f8f8"/>
<circle cx="119.6" cy="521.4" r="3.05" fill="#383838"/>
<circle cx="124.3" cy="519.2" r="3.05" fill="#383838"/>
<circle cx="131.7" cy="524.3" r="3.05" fill="#747474"/>
<circle cx="59.3" cy="530.9" r="3.05" fill="#d0d0d0"/>
<circle cx="71" cy="529.4" r="3.05" fill="#383838"/>
<circle cx="78" cy="528.7" r="3.05" fill="#a4a4a4"/>
<circle cx="80.9" cy="526.5" r="3.05" fill="#d0d0d0"/>
<circle cx="83.1" cy="532.3" r="3.05" fill="#383838"/>
<circle cx="87.5" cy="529.4" r="3.05" fill="#747474"/>
<circle cx="91.1" cy="526.5" r="3.05" fill="#747474"/>
<circle cx="94" cy="530.2" r="3.05" fill="#747474"/>
<circle cx="98.4" cy="528" r="3.05" fill="#383838"/>
<circle cx="104.3" cy="533.1" r="3.05" fill="#383838"/>
<circle cx="111.6" cy="526.5" r="3.05" fill="#121212" stroke="#1e1e1e"/>
<circle cx="118.9" cy="528" r="3.05" fill="#121212" stroke="#1e1e1e"/>
<circle cx="109.4" cy="530.2" r="3.05" fill="#a4a4a4"/>
<circle cx="128.4" cy="529.4" r="3.05" fill="#121212" stroke="#1e1e1e"/>
<circle cx="58.3" cy="536" r="3.05" fill="#a4a4a4"/>
<circle cx="74.3" cy="537.5" r="3.05" fill="#121212" stroke="#1e1e1e"/>
<circle cx="75.8" cy="538.9" r="3.05" fill="#121212" stroke="#1e1e1e"/>
<circle cx="79.4" cy="538.9" r="3.05" fill="#a4a4a4"/>
<circle cx="86.7" cy="536" r="3.05" fill="#121212" stroke="#1e1e1e"/>
<circle cx="96.2" cy="534.5" r="3.05" fill="#383838"/>
<circle cx="95.5" cy="538.9" r="3.05" fill="#d0d0d0"/>
<circle cx="99.9" cy="537.5" r="3.05" fill="#747474"/>
<circle cx="114.5" cy="533.8" r="3.05" fill="#383838"/>
<circle cx="119.6" cy="536.7" r="3.05" fill="#747474"/>
<circle cx="115.2" cy="539.6" r="3.05" fill="#383838"/>
<circle cx="126.2" cy="538.2" r="3.05" fill="#121212" stroke="#1e1e1e"/>
<circle cx="131.7" cy="534.5" r="3.05" fill="#383838"/>
<circle cx="47.3" cy="541.8" r="3.05" fill="#121212" stroke="#1e1e1e"/>
<circle cx="64.4" cy="544" r="3.05" fill="#121212" stroke="#1e1e1e"/>
<circle cx="83.1" cy="542.9" r="3.05" fill="#d0d0d0"/>
<circle cx="90.4" cy="544.8" r="3.05" fill="#383838"/>
<circle cx="91.9" cy="546.9" r="3.05" fill="#383838"/>
<circle cx="102.1" cy="543.3" r="3.05" fill="#383838"/>
<circle cx="116.7" cy="543" r="3.05" fill="#383838"/>
<circle cx="119.6" cy="547.7" r="3.05" fill="#383838"/>
<circle cx="127.6" cy="546.9" r="3.05" fill="#f8f8f8"/>
<circle cx="131.3" cy="542.6" r="3.05" fill="#a4a4a4"/>
<circle cx="76.8" cy="548.1" r="3.05" fill="#747474"/>
<circle cx="70.2" cy="553.5" r="3.05" fill="#747474"/>
<circle cx="52.4" cy="555" r="3.05" fill="#121212" stroke="#1e1e1e"/>
<circle cx="105" cy="551.3" r="3.05" fill="#d0d0d0"/>
<circle cx="107.2" cy="554.2" r="3.05" fill="#a4a4a4"/>
<circle cx="116.7" cy="552.1" r="3.05" fill="#383838"/>
<circle cx="121.8" cy="553.5" r="3.05" fill="#383838"/>
<circle cx="131.7" cy="546.2" r="3.05" fill="#121212" stroke="#1e1e1e"/>
<circle cx="139.3" cy="468.1" r="3.05" fill="#121212" stroke="#1e1e1e"/>
<circle cx="152.4" cy="465.2" r="3.05" fill="#383838"/>
<circle cx="155.4" cy="465.2" r="3.05" fill="#747474"/>
<circle cx="159.7" cy="468.1" r="3.05" fill="#d0d0d0"/>
<circle cx="172.6" cy="466.6" r="3.05" fill="#d0d0d0"/>
<circle cx="172.1" cy="471" r="3.05" fill="#a4a4a4"/>
<circle cx="187.2" cy="468.8" r="3.05" fill="#d0d0d0"/>
<circle cx="195.5" cy="465.9" r="3.05" fill="#747474"/>
<circle cx="203.5" cy="468.8" r="3.05" fill="#d0d0d0"/>
<circle cx="218.1" cy="466.6" r="3.05" fill="#747474"/>
<circle cx="226.9" cy="465.9" r="3.05" fill="#d0d0d0"/>
<circle cx="228.4" cy="472.5" r="3.05" fill="#a4a4a4"/>
<circle cx="140" cy="475.4" r="3.05" fill="#a4a4a4"/>
<circle cx="153.9" cy="473.9" r="3.05" fill="#121212" stroke="#1e1e1e"/>
<circle cx="161.9" cy="475.4" r="3.05" fill="#f8f8f8"/>
<circle cx="182.4" cy="476.1" r="3.05" fill="#f8f8f8"/>
<circle cx="187.5" cy="476.9" r="3.05" fill="#d0d0d0"/>
<circle cx="198.4" cy="473.9" r="3.05" fill="#383838"/>
<circle cx="205" cy="474.7" r="3.05" fill="#a4a4a4"/>
<circle cx="209.4" cy="476.9" r="3.05" fill="#121212" stroke="#1e1e1e"/>
<circle cx="210.8" cy="473.2" r="3.05" fill="#d0d0d0"/>
<circle cx="221.8" cy="477.6" r="3.05" fill="#d0d0d0"/>
<circle cx="144.4" cy="479.8" r="3.05" fill="#383838"/>
<circle cx="137.8" cy="482.7" r="3.05" fill="#383838"/>
<circle cx="141.5" cy="483.4" r="3.05" fill="#747474"/>
<circle cx="163.4" cy="481.2" r="3.05" fill="#383838"/>
<circle cx="167" cy="480.2" r="3.05" fill="#747474"/>
<circle cx="196.2" cy="482" r="3.05" fill="#a4a4a4"/>
<circle cx="206.5" cy="482.7" r="3.05" fill="#747474"/>
<circle cx="151.7" cy="486.1" r="3.05" fill="#a4a4a4"/>
<circle cx="157.5" cy="486.4" r="3.05" fill="#121212" stroke="#1e1e1e"/>
<circle cx="159.4" cy="488.1" r="3.05" fill="#d0d0d0"/>
<circle cx="167" cy="487.1" r="3.05" fill="#d0d0d0"/>
<circle cx="176.2" cy="487.8" r="3.05" fill="#747474"/>
<circle cx="183.8" cy="484.9" r="3.05" fill="#f8f8f8"/>
<circle cx="180.9" cy="490" r="3.05" fill="#747474"/>
<circle cx="186" cy="490" r="3.05" fill="#383838"/>
<circle cx="221.3" cy="485.9" r="3.05" fill="#f8f8f8"/>
<circle cx="231.7" cy="487.8" r="3.05" fill="#747474"/>
<circle cx="137.5" cy="489.3" r="3.05" fill="#a4a4a4"/>
<circle cx="137.8" cy="493.7" r="3.05" fill="#383838"/>
<circle cx="144.8" cy="494.4" r="3.05" fill="#d0d0d0"/>
<circle cx="159" cy="496.9" r="3.05" fill="#f8f8f8"/>
<circle cx="177.3" cy="494.4" r="3.05" fill="#d0d0d0"/>
<circle cx="178" cy="498.8" r="3.05" fill="#121212" stroke="#1e1e1e"/>
<circle cx="188.2" cy="494.4" r="3.05" fill="#383838"/>
<circle cx="191.9" cy="498.8" r="3.05" fill="#d0d0d0"/>
<circle cx="194.8" cy="489.7" r="3.05" fill="#747474"/>
<circle cx="202.1" cy="489.3" r="3.05" fill="#747474"/>
<circle cx="215.2" cy="493.2" r="3.05" fill="#747474"/>
<circle cx="204.7" cy="497.3" r="3.05" fill="#121212" stroke="#1e1e1e"/>
<circle cx="212.3" cy="500.2" r="3.05" fill="#383838"/>
<circle cx="208.6" cy="499.5" r="3.05" fill="#f8f8f8"/>
<circle cx="226.9" cy="496.6" r="3.05" fill="#a4a4a4"/>
<circle cx="150.2" cy="498.5" r="3.05" fill="#747474"/>
<circle cx="155.4" cy="503.1" r="3.05" fill="#a4a4a4"/>
<circle cx="169.2" cy="500.2" r="3.05" fill="#747474"/>
<circle cx="167.8" cy="503.9" r="3.05" fill="#d0d0d0"/>
<circle cx="184.8" cy="503.1" r="3.05" fill="#383838"/>
<circle cx="213.8" cy="505.8" r="3.05" fill="#383838"/>
<circle cx="136.4" cy="501.7" r="3.05" fill="#121212" stroke="#1e1e1e"/>
<circle cx="140.8" cy="503.1" r="3.05" fill="#121212" stroke="#1e1e1e"/>
<circle cx="146.6" cy="506.8" r="3.05" fill="#121212" stroke="#1e1e1e"/>
<circle cx="134.9" cy="509.7" r="3.05" fill="#121212" stroke="#1e1e1e"/>
<circle cx="142.2" cy="511.9" r="3.05" fill="#121212" stroke="#1e1e1e"/>
<circle cx="149.5" cy="510.7" r="3.05" fill="#a4a4a4"/>
<circle cx="164.4" cy="510.9" r="3.05" fill="#d0d0d0"/>
<circle cx="169.7" cy="510.9" r="3.05" fill="#d0d0d0"/>
<circle cx="168.1" cy="514.1" r="3.05" fill="#121212" stroke="#1e1e1e"/>
<circle cx="173.3" cy="514.5" r="3.05" fill="#121212" stroke="#1e1e1e"/>
<circle cx="191.1" cy="513.4" r="3.05" fill="#121212" stroke="#1e1e1e"/>
<circle cx="191.1" cy="508.7" r="3.05" fill="#a4a4a4"/>
<circle cx="202.8" cy="509.4" r="3.05" fill="#f8f8f8"/>
<circle cx="203.1" cy="515.3" r="3.05" fill="#747474"/>
<circle cx="225.4" cy="508.5" r="3.05" fill="#d0d0d0"/>
<circle cx="214.8" cy="516.6" r="3.05" fill="#d0d0d0"/>
<circle cx="141.1" cy="519.2" r="3.05" fill="#d0d0d0"/>
<circle cx="152.4" cy="518.2" r="3.05" fill="#121212" stroke="#1e1e1e"/>
<circle cx="154.6" cy="520.7" r="3.05" fill="#d0d0d0"/>
<circle cx="160.8" cy="517.5" r="3.05" fill="#121212" stroke="#1e1e1e"/>
<circle cx="161.6" cy="524" r="3.05" fill="#f8f8f8"/>
<circle cx="182.1" cy="522.9" r="3.05" fill="#121212" stroke="#1e1e1e"/>
<circle cx="182.1" cy="528.7" r="3.05" fill="#121212" stroke="#1e1e1e"/>
<circle cx="197.4" cy="523.1" r="3.05" fill="#383838"/>
<circle cx="190.8" cy="527.2" r="3.05" fill="#d0d0d0"/>
<circle cx="217.1" cy="526.5" r="3.05" fill="#383838"/>
<circle cx="220.6" cy="526.1" r="3.05" fill="#d0d0d0"/>
<circle cx="132.3" cy="527.2" r="3.05" fill="#747474"/>
<circle cx="143.7" cy="529.4" r="3.05" fill="#747474"/>
<circle cx="140" cy="532.8" r="3.05" fill="#383838"/>
<circle cx="146.6" cy="535.3" r="3.05" fill="#383838"/>
<circle cx="165.3" cy="530.2" r="3.05" fill="#747474"/>
<circle cx="168.5" cy="536" r="3.05" fill="#a4a4a4"/>
<circle cx="157.5" cy="534.5" r="3.05" fill="#121212" stroke="#1e1e1e"/>
<circle cx="155.4" cy="537.2" r="3.05" fill="#121212" stroke="#1e1e1e"/>
<circle cx="198.9" cy="531.2" r="3.05" fill="#d0d0d0"/>
<circle cx="145.9" cy="542.3" r="3.05" fill="#f8f8f8"/>
<circle cx="175.1" cy="543.3" r="3.05" fill="#d0d0d0"/>
<circle cx="191.6" cy="539.6" r="3.05" fill="#a4a4a4"/>
<circle cx="194.8" cy="538.2" r="3.05" fill="#f8f8f8"/>
<circle cx="213" cy="541.4" r="3.05" fill="#383838"/>
<circle cx="218.9" cy="540.4" r="3.05" fill="#121212" stroke="#1e1e1e"/>
<circle cx="222.5" cy="542.3" r="3.05" fill="#747474"/>
<circle cx="137.5" cy="548.1" r="3.05" fill="#a4a4a4"/>
<circle cx="162.7" cy="546.2" r="3.05" fill="#383838"/>
<circle cx="165.3" cy="546.9" r="3.05" fill="#747474"/>
<circle cx="148.1" cy="551.6" r="3.05" fill="#383838"/>
<circle cx="160.5" cy="553.5" r="3.05" fill="#747474"/>
<circle cx="192.6" cy="552.1" r="3.05" fill="#f8f8f8"/>
<circle cx="195.8" cy="553.2" r="3.05" fill="#d0d0d0"/>
<circle cx="134.2" cy="555" r="3.05" fill="#d0d0d0"/>
<circle cx="266" cy="463.7" r="3.05" fill="#747474"/>
<circle cx="269.2" cy="464.2" r="3.05" fill="#d0d0d0"/>
<circle cx="245.1" cy="468.1" r="3.05" fill="#d0d0d0"/>
<circle cx="247.3" cy="471.8" r="3.05" fill="#f8f8f8"/>
<circle cx="249.5" cy="475.1" r="3.05" fill="#f8f8f8"/>
<circle cx="293.3" cy="468.8" r="3.05" fill="#747474"/>
<circle cx="234.2" cy="489" r="3.05" fill="#f8f8f8"/>
<circle cx="235.6" cy="486.4" r="3.05" fill="#f8f8f8"/>
<circle cx="256.5" cy="486.4" r="3.05" fill="#383838"/>
<circle cx="278" cy="489.6" r="3.05" fill="#747474"/>
<circle cx="241.9" cy="502.1" r="3.05" fill="#121212" stroke="#1e1e1e"/>
<circle cx="245.1" cy="502.4" r="3.05" fill="#747474"/>
<circle cx="235.6" cy="514.8" r="3.05" fill="#f8f8f8"/>
<circle cx="253.9" cy="517.7" r="3.05" fill="#a4a4a4"/>
<circle cx="240.8" cy="529.4" r="3.05" fill="#121212" stroke="#1e1e1e"/>
<circle cx="80.6" cy="563.3" r="3.05" fill="#a4a4a4"/>
<circle cx="90.7" cy="556.3" r="3.05" fill="#d0d0d0"/>
<circle cx="93.3" cy="558.9" r="3.05" fill="#747474"/>
<circle cx="102.5" cy="569.9" r="3.05" fill="#121212" stroke="#1e1e1e"/>
<circle cx="113" cy="562.9" r="3.05" fill="#a4a4a4"/>
<circle cx="122.4" cy="568.8" r="3.05" fill="#747474"/>
<circle cx="138.2" cy="560.5" r="3.05" fill="#f8f8f8"/>
<circle cx="141.5" cy="578.2" r="3.05" fill="#747474"/>
<circle cx="146.3" cy="578.2" r="3.05" fill="#747474"/>
<circle cx="153.5" cy="567.3" r="3.05" fill="#d0d0d0"/>
<circle cx="175.9" cy="560" r="3.05" fill="#121212" stroke="#1e1e1e"/>
<circle cx="180.9" cy="563.8" r="3.05" fill="#747474"/>
<circle cx="214.2" cy="562.2" r="3.05" fill="#121212" stroke="#1e1e1e"/>
</g>
</svg>
</body></html>
